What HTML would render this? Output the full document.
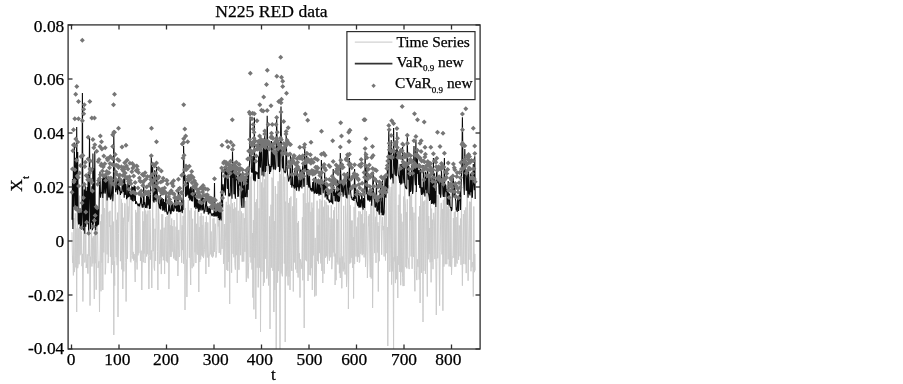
<!DOCTYPE html>
<html lang="en">
<head>
<meta charset="utf-8">
<title>N225 RED data</title>
<style>
html,body{margin:0;padding:0;background:#fff;}
body{width:903px;height:384px;overflow:hidden;font-family:"Liberation Serif",serif;}
svg{display:block;}
svg text{font-family:"Liberation Serif",serif;fill:#000;stroke:#000;stroke-width:0.25px;}
</style>
</head>
<body>
<svg width="903" height="384" viewBox="0 0 903 384">
<rect width="903" height="384" fill="#fff"/>
<defs><clipPath id="plot"><rect x="68" y="25" width="412" height="324"/></clipPath></defs>
<g clip-path="url(#plot)" fill="none" stroke-linejoin="miter" stroke-miterlimit="2">
<path d="M72.0,232.2 L72.5,262.9 L72.9,255.8 L73.4,275.4 L73.9,218.0 L74.3,272.1 L74.8,267.5 L75.3,213.3 L75.8,267.3 L76.2,228.5 L76.7,312.0 L77.2,210.6 L77.7,268.2 L78.2,264.4 L78.6,228.5 L79.1,264.2 L79.6,195.7 L80.0,255.3 L80.5,230.0 L81.0,254.2 L81.5,231.5 L82.0,266.2 L82.4,253.9 L82.9,301.5 L83.4,258.0 L83.8,218.1 L84.3,189.6 L84.8,262.5 L85.3,258.3 L85.8,233.4 L86.2,268.0 L86.7,263.7 L87.2,254.3 L87.7,273.4 L88.1,273.7 L88.6,232.5 L89.1,256.0 L89.5,221.2 L90.0,305.6 L90.5,256.6 L91.0,255.4 L91.5,224.0 L91.9,266.5 L92.4,237.8 L92.9,263.4 L93.3,236.1 L93.8,259.9 L94.3,299.0 L94.8,209.0 L95.2,263.3 L95.7,234.0 L96.2,289.7 L96.7,258.8 L97.2,217.4 L97.6,227.3 L98.1,267.9 L98.6,262.9 L99.0,261.3 L99.5,312.0 L100.0,255.8 L100.5,221.4 L101.0,291.3 L101.4,214.5 L101.9,262.8 L102.4,190.3 L102.8,290.0 L103.3,187.0 L103.8,252.4 L104.3,208.0 L104.8,210.5 L105.2,274.4 L105.7,267.2 L106.2,190.1 L106.7,223.4 L107.1,254.4 L107.6,193.6 L108.1,263.1 L108.5,257.6 L109.0,211.9 L109.5,226.9 L110.0,210.8 L110.4,256.8 L110.9,225.2 L111.4,273.2 L111.9,209.3 L112.3,190.9 L112.8,265.0 L113.3,221.6 L113.8,335.0 L114.2,261.3 L114.7,285.6 L115.2,193.9 L115.7,209.3 L116.2,257.1 L116.6,219.8 L117.1,265.2 L117.6,212.6 L118.0,317.0 L118.5,233.4 L119.0,196.9 L119.5,189.4 L119.9,188.8 L120.4,261.2 L120.9,253.4 L121.4,199.2 L121.8,269.4 L122.3,202.9 L122.8,289.0 L123.3,217.7 L123.8,271.4 L124.2,226.9 L124.7,203.2 L125.2,203.6 L125.7,262.3 L126.1,301.5 L126.6,256.9 L127.1,194.7 L127.5,258.7 L128.0,206.4 L128.5,221.5 L129.0,214.4 L129.4,195.6 L129.9,203.1 L130.4,261.5 L130.9,262.3 L131.3,255.5 L131.8,188.2 L132.3,224.3 L132.8,258.7 L133.2,251.9 L133.7,260.6 L134.2,254.0 L134.7,260.3 L135.2,282.0 L135.6,209.9 L136.1,262.4 L136.6,212.6 L137.1,269.5 L137.5,207.2 L138.0,255.4 L138.5,205.8 L138.9,253.2 L139.4,210.6 L139.9,203.6 L140.4,260.8 L140.8,256.4 L141.3,250.7 L141.8,290.0 L142.3,256.0 L142.8,211.4 L143.2,262.3 L143.7,221.3 L144.2,253.5 L144.6,202.0 L145.1,263.0 L145.6,210.5 L146.1,214.6 L146.6,256.5 L147.0,214.3 L147.5,254.2 L148.0,210.5 L148.4,256.3 L148.9,289.0 L149.4,255.3 L149.9,210.2 L150.3,222.2 L150.8,259.7 L151.3,250.4 L151.8,288.0 L152.2,252.3 L152.7,195.0 L153.2,251.2 L153.7,218.6 L154.1,267.3 L154.6,270.5 L155.1,228.8 L155.6,261.0 L156.1,212.5 L156.5,188.8 L157.0,218.4 L157.5,251.7 L157.9,290.0 L158.4,204.3 L158.9,214.9 L159.4,263.8 L159.8,263.9 L160.3,258.4 L160.8,229.7 L161.3,274.1 L161.8,214.1 L162.2,256.5 L162.7,214.4 L163.2,260.3 L163.6,258.6 L164.1,227.7 L164.6,274.0 L165.1,230.9 L165.6,217.0 L166.0,260.4 L166.5,261.3 L167.0,216.1 L167.4,262.5 L167.9,226.2 L168.4,211.7 L168.9,289.0 L169.3,255.8 L169.8,208.4 L170.3,256.9 L170.8,225.2 L171.2,256.9 L171.7,218.5 L172.2,251.7 L172.7,226.2 L173.1,250.9 L173.6,258.4 L174.1,220.0 L174.6,257.0 L175.1,259.9 L175.5,260.3 L176.0,226.6 L176.5,260.7 L176.9,213.0 L177.4,229.2 L177.9,276.0 L178.4,250.9 L178.8,229.9 L179.3,257.0 L179.8,255.6 L180.3,210.6 L180.8,212.4 L181.2,230.8 L181.7,262.8 L182.2,225.2 L182.6,250.1 L183.1,215.9 L183.6,263.8 L184.1,199.9 L184.6,202.2 L185.0,310.0 L185.5,208.0 L186.0,258.3 L186.4,259.2 L186.9,297.0 L187.4,259.1 L187.9,206.8 L188.3,199.8 L188.8,213.0 L189.3,257.7 L189.8,210.5 L190.2,261.3 L190.7,285.0 L191.2,208.0 L191.7,257.7 L192.1,268.2 L192.6,218.8 L193.1,262.2 L193.6,266.4 L194.1,262.4 L194.5,210.8 L195.0,252.2 L195.5,207.3 L195.9,263.0 L196.4,223.8 L196.9,253.6 L197.4,254.6 L197.8,207.7 L198.3,228.0 L198.8,292.0 L199.3,227.2 L199.8,262.0 L200.2,216.2 L200.7,259.5 L201.2,213.0 L201.7,255.5 L202.1,224.9 L202.6,256.5 L203.1,215.9 L203.5,258.1 L204.0,254.4 L204.5,249.7 L205.0,227.7 L205.4,222.0 L205.9,274.0 L206.4,216.4 L206.9,249.7 L207.3,257.5 L207.8,222.4 L208.3,250.0 L208.8,266.9 L209.2,255.0 L209.7,255.4 L210.2,210.4 L210.7,254.3 L211.2,231.5 L211.6,256.5 L212.1,250.7 L212.6,257.6 L213.0,218.6 L213.5,256.3 L214.0,218.1 L214.5,252.0 L214.9,228.4 L215.4,223.8 L215.9,257.6 L216.4,254.5 L216.8,250.4 L217.3,216.3 L217.8,217.8 L218.3,226.4 L218.8,221.2 L219.2,253.0 L219.7,217.4 L220.2,248.0 L220.7,254.7 L221.1,247.9 L221.6,216.4 L222.1,248.8 L222.5,212.8 L223.0,204.1 L223.5,263.8 L224.0,258.3 L224.4,224.1 L224.9,287.5 L225.4,241.5 L225.9,209.1 L226.3,201.8 L226.8,269.9 L227.3,205.1 L227.8,270.9 L228.2,179.7 L228.7,261.8 L229.2,204.5 L229.7,304.0 L230.2,206.6 L230.6,223.0 L231.1,198.5 L231.6,272.7 L232.0,222.9 L232.5,203.3 L233.0,253.8 L233.5,208.9 L233.9,257.3 L234.4,202.0 L234.9,263.7 L235.4,269.6 L235.8,207.5 L236.3,255.2 L236.8,197.9 L237.3,283.0 L237.8,229.4 L238.2,210.8 L238.7,269.7 L239.2,269.7 L239.7,214.2 L240.1,196.0 L240.6,255.2 L241.1,219.8 L241.5,211.5 L242.0,261.8 L242.5,261.4 L243.0,213.3 L243.4,261.2 L243.9,261.6 L244.4,218.2 L244.9,251.8 L245.3,200.9 L245.8,224.2 L246.3,282.0 L246.8,191.4 L247.2,202.2 L247.7,275.9 L248.2,278.4 L248.7,262.7 L249.2,168.2 L249.6,166.9 L250.1,257.2 L250.6,176.7 L251.0,262.6 L251.5,174.5 L252.0,269.5 L252.5,233.0 L252.9,297.6 L253.4,220.1 L253.9,309.4 L254.4,151.2 L254.8,257.6 L255.3,202.1 L255.8,319.0 L256.3,246.8 L256.8,199.3 L257.2,267.7 L257.7,179.6 L258.2,287.4 L258.6,269.1 L259.1,208.4 L259.6,267.7 L260.1,165.9 L260.5,332.0 L261.0,251.7 L261.5,182.5 L262.0,271.7 L262.4,210.4 L262.9,173.9 L263.4,285.9 L263.9,187.6 L264.4,282.5 L264.8,179.2 L265.3,258.8 L265.8,172.7 L266.2,178.8 L266.7,278.6 L267.2,273.6 L267.7,155.0 L268.1,264.1 L268.6,285.5 L269.1,267.8 L269.6,216.4 L270.0,329.0 L270.5,239.5 L271.0,204.7 L271.5,267.6 L271.9,177.6 L272.4,179.2 L272.9,270.8 L273.4,152.6 L273.9,312.0 L274.3,221.1 L274.8,290.0 L275.3,186.1 L275.8,260.5 L276.2,360.0 L276.7,246.1 L277.2,193.9 L277.6,282.6 L278.1,181.3 L278.6,271.1 L279.1,261.6 L279.5,160.0 L280.0,360.0 L280.5,174.3 L281.0,273.4 L281.4,159.4 L281.9,272.6 L282.4,276.3 L282.9,181.5 L283.4,168.1 L283.8,192.6 L284.3,263.6 L284.8,176.8 L285.2,342.0 L285.7,201.6 L286.2,276.3 L286.7,265.1 L287.1,174.0 L287.6,271.2 L288.1,285.4 L288.6,202.9 L289.0,276.7 L289.5,198.0 L290.0,290.0 L290.5,221.9 L290.9,196.5 L291.4,265.9 L291.9,271.0 L292.4,210.7 L292.9,206.2 L293.3,291.5 L293.8,189.2 L294.3,262.5 L294.8,177.3 L295.2,201.2 L295.7,269.4 L296.2,205.9 L296.6,198.3 L297.1,272.9 L297.6,222.9 L298.1,277.5 L298.5,221.0 L299.0,258.4 L299.5,253.4 L300.0,297.6 L300.4,259.3 L300.9,261.6 L301.4,264.3 L301.9,268.8 L302.4,217.3 L302.8,280.3 L303.3,193.4 L303.8,220.1 L304.2,328.0 L304.7,193.0 L305.2,177.9 L305.7,260.3 L306.1,203.1 L306.6,261.2 L307.1,202.4 L307.6,177.3 L308.0,281.0 L308.5,202.6 L309.0,274.8 L309.5,180.9 L309.9,189.7 L310.4,275.3 L310.9,211.9 L311.4,268.1 L311.9,202.5 L312.3,290.0 L312.8,207.8 L313.3,255.4 L313.8,192.0 L314.2,258.7 L314.7,296.5 L315.2,237.9 L315.6,272.9 L316.1,295.6 L316.6,261.2 L317.1,200.7 L317.5,261.2 L318.0,225.2 L318.5,263.8 L319.0,208.7 L319.4,253.1 L319.9,199.0 L320.4,256.1 L320.9,263.5 L321.4,200.7 L321.8,270.9 L322.3,187.5 L322.8,283.0 L323.2,221.3 L323.7,206.8 L324.2,273.7 L324.7,200.2 L325.1,255.6 L325.6,257.7 L326.1,201.7 L326.6,256.3 L327.0,204.8 L327.5,263.9 L328.0,221.2 L328.5,205.5 L328.9,254.2 L329.4,260.7 L329.9,217.7 L330.4,228.4 L330.8,257.3 L331.3,205.1 L331.8,269.2 L332.3,258.0 L332.8,218.7 L333.2,252.4 L333.7,210.3 L334.2,256.5 L334.6,207.2 L335.1,285.0 L335.6,253.7 L336.1,280.2 L336.6,190.7 L337.0,262.4 L337.5,219.4 L338.0,264.5 L338.4,213.7 L338.9,199.2 L339.4,273.2 L339.9,257.8 L340.3,278.0 L340.8,252.8 L341.3,174.9 L341.8,288.3 L342.2,256.4 L342.7,265.6 L343.2,271.4 L343.7,205.8 L344.1,269.3 L344.6,262.7 L345.1,274.5 L345.6,198.7 L346.1,218.1 L346.5,286.8 L347.0,274.9 L347.5,203.1 L347.9,191.7 L348.4,309.0 L348.9,254.2 L349.4,191.5 L349.8,263.7 L350.3,205.2 L350.8,262.6 L351.3,220.7 L351.8,257.9 L352.2,220.5 L352.7,267.9 L353.2,237.1 L353.6,298.5 L354.1,206.9 L354.6,264.1 L355.1,201.9 L355.6,199.4 L356.0,256.5 L356.5,226.7 L357.0,254.6 L357.4,262.0 L357.9,217.5 L358.4,257.1 L358.9,211.2 L359.3,262.6 L359.8,261.1 L360.3,211.6 L360.8,253.8 L361.2,249.7 L361.7,214.3 L362.2,255.2 L362.7,209.1 L363.1,253.9 L363.6,223.6 L364.1,257.4 L364.6,216.4 L365.1,199.5 L365.5,267.0 L366.0,251.9 L366.5,211.3 L366.9,234.4 L367.4,278.0 L367.9,258.9 L368.4,216.2 L368.8,226.2 L369.3,214.2 L369.8,257.0 L370.3,277.0 L370.8,203.6 L371.2,278.5 L371.7,192.7 L372.2,221.5 L372.6,308.0 L373.1,256.7 L373.6,200.1 L374.1,210.4 L374.6,253.1 L375.0,227.8 L375.5,216.8 L376.0,262.8 L376.4,202.9 L376.9,215.7 L377.4,252.5 L377.9,222.3 L378.3,291.5 L378.8,226.0 L379.3,261.2 L379.8,208.6 L380.2,206.8 L380.7,209.6 L381.2,224.5 L381.7,254.7 L382.1,231.8 L382.6,217.2 L383.1,230.1 L383.6,226.1 L384.1,256.5 L384.5,213.2 L385.0,210.2 L385.5,260.5 L385.9,222.9 L386.4,181.5 L386.9,253.2 L387.4,227.1 L387.8,346.0 L388.3,250.0 L388.8,185.3 L389.3,192.3 L389.8,271.8 L390.2,263.4 L390.7,195.2 L391.2,187.0 L391.6,284.6 L392.1,182.7 L392.6,271.3 L393.1,257.3 L393.6,360.0 L394.0,170.4 L394.5,259.9 L395.0,262.7 L395.4,283.1 L395.9,170.3 L396.4,279.3 L396.9,269.3 L397.3,256.1 L397.8,298.0 L398.3,205.0 L398.8,264.9 L399.2,194.6 L399.7,271.9 L400.2,181.4 L400.7,285.2 L401.1,213.7 L401.6,272.2 L402.1,221.8 L402.6,277.4 L403.1,286.1 L403.5,196.6 L404.0,286.0 L404.5,178.1 L404.9,197.3 L405.4,203.9 L405.9,267.1 L406.4,212.1 L406.8,268.4 L407.3,199.3 L407.8,258.3 L408.3,258.0 L408.8,267.2 L409.2,269.1 L409.7,191.0 L410.2,220.4 L410.6,195.7 L411.1,256.4 L411.6,193.7 L412.1,268.8 L412.6,207.0 L413.0,217.3 L413.5,256.8 L414.0,212.7 L414.4,270.6 L414.9,291.3 L415.4,197.3 L415.9,190.7 L416.3,270.8 L416.8,280.1 L417.3,259.3 L417.8,266.7 L418.2,267.0 L418.7,216.7 L419.2,279.5 L419.7,206.0 L420.1,303.0 L420.6,185.6 L421.1,206.3 L421.6,272.8 L422.1,201.0 L422.5,195.3 L423.0,322.0 L423.5,201.5 L423.9,270.9 L424.4,205.4 L424.9,200.4 L425.4,273.9 L425.8,263.7 L426.3,192.0 L426.8,240.4 L427.3,296.5 L427.8,173.5 L428.2,259.3 L428.7,216.1 L429.2,253.9 L429.6,228.0 L430.1,262.3 L430.6,200.4 L431.1,282.3 L431.6,208.6 L432.0,261.9 L432.5,219.7 L433.0,269.2 L433.4,213.6 L433.9,212.8 L434.4,222.0 L434.9,259.1 L435.3,206.8 L435.8,253.3 L436.3,315.0 L436.8,261.7 L437.2,195.0 L437.7,258.3 L438.2,209.4 L438.7,194.5 L439.1,251.4 L439.6,305.7 L440.1,252.4 L440.6,222.1 L441.0,203.4 L441.5,202.9 L442.0,254.4 L442.5,208.9 L442.9,310.7 L443.4,199.9 L443.9,266.6 L444.4,180.7 L444.8,222.3 L445.3,264.2 L445.8,200.5 L446.3,193.5 L446.8,264.2 L447.2,206.4 L447.7,218.9 L448.2,259.3 L448.6,203.6 L449.1,266.4 L449.6,260.7 L450.1,209.0 L450.5,266.6 L451.0,210.8 L451.5,275.0 L452.0,259.4 L452.4,256.5 L452.9,256.5 L453.4,218.0 L453.9,257.9 L454.3,212.2 L454.8,266.8 L455.3,211.1 L455.8,266.6 L456.2,217.1 L456.7,260.9 L457.2,263.5 L457.7,203.5 L458.1,225.8 L458.6,259.9 L459.1,225.4 L459.6,226.9 L460.0,256.3 L460.5,218.6 L461.0,264.8 L461.5,195.3 L461.9,247.4 L462.4,285.7 L462.9,249.9 L463.4,214.0 L463.8,263.9 L464.3,210.3 L464.8,214.4 L465.3,264.3 L465.8,207.4 L466.2,273.1 L466.7,216.9 L467.2,189.4 L467.6,207.9 L468.1,280.7 L468.6,252.1 L469.1,223.5 L469.5,201.7 L470.0,259.7 L470.5,201.9 L471.0,271.3 L471.4,187.2 L471.9,267.3 L472.4,263.8 L472.9,262.0 L473.3,296.5 L473.8,206.5 L474.3,272.2 L474.8,253.9 L475.2,270.5" stroke="#cbcbcb" stroke-width="1.0"/>
<path d="M72.0,219.7 L72.5,179.1 L72.9,228.9 L73.4,167.9 L73.9,208.1 L74.3,142.6 L74.8,179.8 L75.3,208.9 L75.8,157.8 L76.2,209.9 L76.7,127.0 L77.2,206.6 L77.7,152.0 L78.2,220.1 L78.6,224.5 L79.1,212.9 L79.6,224.3 L80.0,208.4 L80.5,228.4 L81.0,212.7 L81.5,229.7 L82.0,207.4 L82.4,93.0 L82.9,209.7 L83.4,230.6 L83.8,211.0 L84.3,189.4 L84.8,233.8 L85.3,186.3 L85.8,226.8 L86.2,190.7 L86.7,220.5 L87.2,186.9 L87.7,224.2 L88.1,174.1 L88.6,230.7 L89.1,189.0 L89.5,138.0 L90.0,191.9 L90.5,229.3 L91.0,191.2 L91.5,222.7 L91.9,186.2 L92.4,230.3 L92.9,153.4 L93.3,226.0 L93.8,168.4 L94.3,217.9 L94.8,151.5 L95.2,213.8 L95.7,230.6 L96.2,208.4 L96.7,226.6 L97.2,207.0 L97.6,225.6 L98.1,207.1 L98.6,224.8 L99.0,210.6 L99.5,182.8 L100.0,171.4 L100.5,197.7 L101.0,193.5 L101.4,192.8 L101.9,193.2 L102.4,178.4 L102.8,198.1 L103.3,174.4 L103.8,193.5 L104.3,181.1 L104.8,176.0 L105.2,193.6 L105.7,188.9 L106.2,176.9 L106.7,176.3 L107.1,200.5 L107.6,183.1 L108.1,178.6 L108.5,196.1 L109.0,197.7 L109.5,195.4 L110.0,179.1 L110.4,199.4 L110.9,199.0 L111.4,195.6 L111.9,186.2 L112.3,180.6 L112.8,201.2 L113.3,192.2 L113.8,134.0 L114.2,167.1 L114.7,166.7 L115.2,187.0 L115.7,192.3 L116.2,189.1 L116.6,189.2 L117.1,179.5 L117.6,194.5 L118.0,181.8 L118.5,189.7 L119.0,174.7 L119.5,191.2 L119.9,187.3 L120.4,194.9 L120.9,191.4 L121.4,192.5 L121.8,192.7 L122.3,180.2 L122.8,186.3 L123.3,192.0 L123.8,178.4 L124.2,197.8 L124.7,177.0 L125.2,194.9 L125.7,183.9 L126.1,186.1 L126.6,199.2 L127.1,196.7 L127.5,197.8 L128.0,179.0 L128.5,197.2 L129.0,194.4 L129.4,185.0 L129.9,196.7 L130.4,194.2 L130.9,199.2 L131.3,199.6 L131.8,186.2 L132.3,200.9 L132.8,187.1 L133.2,201.5 L133.7,190.7 L134.2,185.4 L134.7,201.0 L135.2,186.3 L135.6,204.1 L136.1,201.1 L136.6,202.6 L137.1,203.6 L137.5,204.0 L138.0,205.6 L138.5,205.1 L138.9,203.7 L139.4,206.4 L139.9,204.1 L140.4,203.1 L140.8,192.8 L141.3,196.5 L141.8,204.7 L142.3,207.6 L142.8,204.0 L143.2,207.6 L143.7,182.4 L144.2,204.6 L144.6,202.1 L145.1,206.3 L145.6,207.8 L146.1,206.4 L146.6,195.9 L147.0,208.3 L147.5,192.8 L148.0,205.4 L148.4,199.7 L148.9,193.3 L149.4,209.1 L149.9,199.2 L150.3,208.7 L150.8,180.5 L151.3,157.0 L151.8,181.9 L152.2,175.5 L152.7,166.7 L153.2,200.7 L153.7,201.5 L154.1,202.6 L154.6,170.2 L155.1,200.3 L155.6,187.5 L156.1,201.8 L156.5,167.0 L157.0,188.6 L157.5,196.5 L157.9,195.2 L158.4,203.2 L158.9,204.7 L159.4,208.0 L159.8,208.2 L160.3,195.1 L160.8,209.6 L161.3,197.7 L161.8,206.0 L162.2,197.9 L162.7,210.7 L163.2,207.8 L163.6,198.9 L164.1,210.5 L164.6,202.0 L165.1,212.1 L165.6,200.0 L166.0,193.8 L166.5,211.2 L167.0,212.8 L167.4,214.6 L167.9,212.7 L168.4,210.7 L168.9,201.8 L169.3,211.1 L169.8,205.4 L170.3,212.1 L170.8,214.2 L171.2,212.1 L171.7,201.3 L172.2,211.2 L172.7,202.9 L173.1,210.0 L173.6,211.1 L174.1,210.7 L174.6,199.7 L175.1,200.2 L175.5,208.5 L176.0,204.7 L176.5,210.7 L176.9,211.5 L177.4,199.8 L177.9,211.5 L178.4,186.9 L178.8,212.2 L179.3,204.4 L179.8,211.9 L180.3,210.2 L180.8,211.5 L181.2,209.2 L181.7,199.2 L182.2,213.1 L182.6,209.0 L183.1,209.2 L183.6,146.0 L184.1,173.7 L184.6,181.0 L185.0,174.4 L185.5,196.8 L186.0,196.1 L186.4,182.6 L186.9,195.8 L187.4,181.4 L187.9,194.8 L188.3,180.2 L188.8,198.2 L189.3,188.6 L189.8,200.5 L190.2,197.6 L190.7,186.7 L191.2,199.3 L191.7,201.1 L192.1,187.3 L192.6,201.5 L193.1,194.0 L193.6,189.5 L194.1,189.6 L194.5,207.4 L195.0,204.5 L195.5,193.2 L195.9,208.9 L196.4,205.1 L196.9,198.9 L197.4,208.4 L197.8,199.8 L198.3,207.7 L198.8,211.9 L199.3,201.9 L199.8,207.0 L200.2,210.4 L200.7,204.6 L201.2,195.8 L201.7,208.9 L202.1,210.5 L202.6,197.2 L203.1,209.8 L203.5,198.1 L204.0,213.6 L204.5,210.7 L205.0,211.0 L205.4,207.2 L205.9,201.9 L206.4,197.5 L206.9,211.9 L207.3,210.8 L207.8,206.2 L208.3,214.3 L208.8,213.8 L209.2,207.9 L209.7,213.3 L210.2,207.3 L210.7,212.8 L211.2,213.4 L211.6,214.7 L212.1,216.0 L212.6,214.7 L213.0,213.2 L213.5,214.4 L214.0,216.7 L214.5,183.0 L214.9,216.2 L215.4,207.3 L215.9,216.5 L216.4,215.6 L216.8,208.5 L217.3,216.3 L217.8,208.4 L218.3,218.0 L218.8,211.6 L219.2,220.1 L219.7,218.5 L220.2,208.2 L220.7,217.6 L221.1,220.4 L221.6,171.5 L222.1,198.7 L222.5,207.3 L223.0,184.2 L223.5,191.8 L224.0,192.4 L224.4,187.1 L224.9,167.9 L225.4,195.4 L225.9,167.9 L226.3,167.0 L226.8,172.1 L227.3,188.2 L227.8,188.7 L228.2,171.0 L228.7,196.3 L229.2,193.4 L229.7,196.2 L230.2,194.9 L230.6,164.3 L231.1,173.0 L231.6,192.1 L232.0,198.7 L232.5,151.5 L233.0,177.9 L233.5,169.0 L233.9,194.2 L234.4,168.7 L234.9,193.2 L235.4,198.8 L235.8,177.0 L236.3,165.4 L236.8,180.4 L237.3,178.4 L237.8,197.0 L238.2,184.2 L238.7,196.6 L239.2,167.4 L239.7,177.0 L240.1,185.6 L240.6,173.4 L241.1,197.2 L241.5,204.8 L242.0,207.9 L242.5,171.4 L243.0,198.2 L243.4,185.4 L243.9,207.8 L244.4,183.4 L244.9,196.8 L245.3,195.4 L245.8,197.0 L246.3,172.9 L246.8,187.5 L247.2,197.3 L247.7,175.9 L248.2,189.7 L248.7,172.8 L249.2,167.8 L249.6,162.3 L250.1,116.5 L250.6,153.3 L251.0,150.9 L251.5,172.5 L252.0,171.6 L252.5,172.4 L252.9,156.0 L253.4,178.6 L253.9,180.7 L254.4,117.5 L254.8,179.5 L255.3,181.3 L255.8,171.2 L256.3,174.3 L256.8,173.2 L257.2,172.3 L257.7,174.0 L258.2,179.0 L258.6,156.2 L259.1,179.0 L259.6,140.7 L260.1,160.5 L260.5,167.6 L261.0,142.7 L261.5,143.7 L262.0,175.5 L262.4,168.2 L262.9,171.4 L263.4,141.6 L263.9,176.6 L264.4,144.3 L264.8,135.7 L265.3,172.0 L265.8,170.4 L266.2,144.6 L266.7,165.9 L267.2,115.7 L267.7,147.2 L268.1,158.5 L268.6,165.8 L269.1,164.4 L269.6,173.9 L270.0,166.0 L270.5,172.0 L271.0,169.1 L271.5,141.0 L271.9,167.3 L272.4,163.5 L272.9,142.6 L273.4,169.4 L273.9,152.6 L274.3,151.5 L274.8,168.9 L275.3,169.3 L275.8,167.9 L276.2,144.2 L276.7,119.0 L277.2,148.2 L277.6,143.6 L278.1,166.2 L278.6,166.3 L279.1,145.1 L279.5,172.0 L280.0,169.6 L280.5,141.1 L281.0,106.5 L281.4,144.3 L281.9,153.3 L282.4,167.4 L282.9,168.3 L283.4,149.8 L283.8,169.0 L284.3,172.1 L284.8,171.3 L285.2,173.1 L285.7,171.2 L286.2,133.0 L286.7,158.0 L287.1,167.9 L287.6,174.6 L288.1,176.5 L288.6,181.5 L289.0,179.8 L289.5,178.4 L290.0,176.5 L290.5,155.3 L290.9,184.9 L291.4,182.7 L291.9,187.6 L292.4,165.0 L292.9,184.9 L293.3,185.2 L293.8,186.7 L294.3,188.7 L294.8,168.1 L295.2,187.8 L295.7,173.3 L296.2,188.7 L296.6,190.7 L297.1,166.3 L297.6,187.2 L298.1,179.4 L298.5,185.6 L299.0,191.3 L299.5,186.6 L300.0,169.2 L300.4,187.3 L300.9,169.4 L301.4,182.0 L301.9,188.4 L302.4,170.2 L302.8,165.2 L303.3,170.7 L303.8,186.7 L304.2,186.0 L304.7,148.0 L305.2,166.5 L305.7,168.2 L306.1,170.1 L306.6,155.7 L307.1,185.1 L307.6,173.7 L308.0,169.1 L308.5,185.2 L309.0,187.7 L309.5,176.1 L309.9,184.6 L310.4,188.3 L310.9,190.4 L311.4,188.2 L311.9,191.7 L312.3,187.9 L312.8,182.1 L313.3,191.5 L313.8,178.2 L314.2,193.4 L314.7,192.7 L315.2,193.2 L315.6,176.8 L316.1,190.3 L316.6,193.8 L317.1,192.0 L317.5,182.8 L318.0,193.7 L318.5,183.5 L319.0,195.8 L319.4,181.4 L319.9,194.3 L320.4,187.9 L320.9,195.0 L321.4,160.0 L321.8,179.5 L322.3,184.2 L322.8,186.1 L323.2,193.3 L323.7,182.3 L324.2,190.0 L324.7,172.5 L325.1,197.5 L325.6,185.3 L326.1,196.3 L326.6,186.3 L327.0,199.4 L327.5,187.7 L328.0,199.0 L328.5,200.6 L328.9,199.4 L329.4,202.7 L329.9,200.9 L330.4,201.0 L330.8,202.2 L331.3,189.9 L331.8,202.8 L332.3,201.0 L332.8,204.2 L333.2,169.0 L333.7,188.8 L334.2,196.0 L334.6,189.2 L335.1,201.3 L335.6,192.5 L336.1,201.4 L336.6,192.7 L337.0,179.5 L337.5,201.6 L338.0,180.5 L338.4,201.9 L338.9,183.5 L339.4,201.4 L339.9,193.8 L340.3,153.0 L340.8,176.9 L341.3,185.6 L341.8,192.1 L342.2,183.3 L342.7,191.1 L343.2,196.7 L343.7,187.8 L344.1,183.5 L344.6,182.7 L345.1,195.2 L345.6,182.7 L346.1,197.7 L346.5,196.2 L347.0,198.4 L347.5,171.9 L347.9,180.0 L348.4,187.9 L348.9,194.8 L349.4,158.0 L349.8,180.3 L350.3,188.4 L350.8,193.7 L351.3,197.5 L351.8,197.3 L352.2,199.5 L352.7,199.5 L353.2,200.1 L353.6,197.0 L354.1,201.0 L354.6,169.0 L355.1,199.1 L355.6,187.8 L356.0,191.1 L356.5,201.3 L357.0,202.9 L357.4,204.5 L357.9,206.2 L358.4,192.5 L358.9,207.7 L359.3,195.5 L359.8,207.4 L360.3,199.3 L360.8,207.5 L361.2,205.3 L361.7,193.9 L362.2,198.2 L362.7,207.6 L363.1,209.7 L363.6,198.1 L364.1,205.5 L364.6,208.0 L365.1,151.5 L365.5,176.2 L366.0,187.0 L366.5,194.1 L366.9,165.2 L367.4,197.9 L367.9,200.4 L368.4,192.8 L368.8,200.4 L369.3,189.3 L369.8,201.7 L370.3,193.9 L370.8,200.2 L371.2,192.1 L371.7,205.7 L372.2,191.7 L372.6,191.5 L373.1,171.5 L373.6,191.8 L374.1,199.6 L374.6,199.0 L375.0,206.8 L375.5,207.0 L376.0,203.9 L376.4,178.8 L376.9,210.5 L377.4,210.9 L377.9,208.3 L378.3,195.9 L378.8,211.2 L379.3,214.7 L379.8,195.0 L380.2,193.6 L380.7,186.6 L381.2,212.8 L381.7,201.4 L382.1,215.2 L382.6,179.8 L383.1,214.6 L383.6,214.8 L384.1,212.9 L384.5,202.0 L385.0,178.0 L385.5,194.6 L385.9,197.8 L386.4,178.2 L386.9,193.1 L387.4,168.2 L387.8,188.4 L388.3,162.4 L388.8,130.7 L389.3,159.7 L389.8,150.5 L390.2,176.9 L390.7,179.3 L391.2,139.9 L391.6,175.8 L392.1,177.9 L392.6,173.8 L393.1,183.4 L393.6,128.0 L394.0,157.4 L394.5,168.0 L395.0,174.8 L395.4,149.7 L395.9,175.5 L396.4,175.6 L396.9,132.0 L397.3,150.2 L397.8,168.0 L398.3,174.6 L398.8,176.3 L399.2,178.6 L399.7,183.0 L400.2,164.0 L400.7,184.4 L401.1,184.0 L401.6,164.0 L402.1,183.4 L402.6,147.0 L403.1,169.1 L403.5,177.6 L404.0,183.3 L404.5,162.0 L404.9,183.8 L405.4,186.8 L405.9,188.2 L406.4,188.6 L406.8,188.6 L407.3,136.5 L407.8,167.9 L408.3,179.7 L408.8,165.8 L409.2,196.3 L409.7,189.1 L410.2,175.7 L410.6,191.8 L411.1,190.1 L411.6,164.8 L412.1,174.4 L412.6,193.9 L413.0,190.8 L413.5,168.4 L414.0,146.0 L414.4,166.4 L414.9,179.1 L415.4,185.3 L415.9,139.6 L416.3,192.1 L416.8,165.5 L417.3,152.0 L417.8,174.1 L418.2,170.2 L418.7,184.9 L419.2,169.8 L419.7,187.4 L420.1,188.0 L420.6,169.1 L421.1,191.3 L421.6,194.9 L422.1,187.3 L422.5,192.6 L423.0,194.5 L423.5,165.2 L423.9,192.7 L424.4,189.7 L424.9,196.5 L425.4,171.8 L425.8,189.8 L426.3,178.3 L426.8,193.3 L427.3,171.7 L427.8,170.8 L428.2,192.8 L428.7,194.3 L429.2,197.2 L429.6,200.9 L430.1,176.2 L430.6,200.1 L431.1,180.6 L431.6,203.9 L432.0,176.5 L432.5,201.8 L433.0,203.7 L433.4,158.0 L433.9,204.5 L434.4,173.3 L434.9,203.3 L435.3,191.0 L435.8,206.9 L436.3,178.4 L436.8,165.7 L437.2,183.2 L437.7,179.4 L438.2,181.6 L438.7,184.1 L439.1,193.3 L439.6,194.2 L440.1,177.8 L440.6,197.7 L441.0,193.8 L441.5,169.0 L442.0,184.5 L442.5,180.6 L442.9,194.0 L443.4,197.0 L443.9,188.4 L444.4,157.9 L444.8,197.1 L445.3,184.3 L445.8,185.2 L446.3,192.3 L446.8,189.6 L447.2,204.0 L447.7,204.5 L448.2,180.9 L448.6,195.2 L449.1,205.4 L449.6,193.6 L450.1,206.3 L450.5,207.7 L451.0,207.6 L451.5,211.0 L452.0,208.9 L452.4,189.5 L452.9,178.4 L453.4,179.0 L453.9,197.5 L454.3,184.1 L454.8,185.8 L455.3,198.6 L455.8,200.9 L456.2,210.5 L456.7,207.5 L457.2,212.0 L457.7,197.5 L458.1,195.9 L458.6,211.1 L459.1,195.3 L459.6,201.0 L460.0,191.4 L460.5,209.9 L461.0,187.1 L461.5,174.7 L461.9,164.6 L462.4,117.3 L462.9,159.4 L463.4,175.1 L463.8,185.3 L464.3,194.9 L464.8,149.0 L465.3,174.5 L465.8,175.2 L466.2,190.1 L466.7,190.1 L467.2,170.4 L467.6,190.5 L468.1,197.7 L468.6,170.0 L469.1,194.0 L469.5,192.7 L470.0,195.5 L470.5,173.7 L471.0,192.2 L471.4,174.7 L471.9,197.3 L472.4,197.3 L472.9,180.7 L473.3,164.0 L473.8,183.1 L474.3,190.1 L474.8,156.3 L475.2,198.9" stroke="#0a0a0a" stroke-width="1.1"/>
<path d="M72.0,189.8l2.5,2.5l-2.5,2.5l-2.5,-2.5zM72.5,166.4l2.5,2.5l-2.5,2.5l-2.5,-2.5zM72.9,148.2l2.5,2.5l-2.5,2.5l-2.5,-2.5zM73.4,142.4l2.5,2.5l-2.5,2.5l-2.5,-2.5zM73.9,179.4l2.5,2.5l-2.5,2.5l-2.5,-2.5zM74.3,177.9l2.5,2.5l-2.5,2.5l-2.5,-2.5zM74.8,167.3l2.5,2.5l-2.5,2.5l-2.5,-2.5zM75.3,204.9l2.5,2.5l-2.5,2.5l-2.5,-2.5zM75.8,136.5l2.5,2.5l-2.5,2.5l-2.5,-2.5zM76.2,206.7l2.5,2.5l-2.5,2.5l-2.5,-2.5zM76.7,157.7l2.5,2.5l-2.5,2.5l-2.5,-2.5zM77.2,173.6l2.5,2.5l-2.5,2.5l-2.5,-2.5zM77.7,139.6l2.5,2.5l-2.5,2.5l-2.5,-2.5zM78.2,174.9l2.5,2.5l-2.5,2.5l-2.5,-2.5zM78.6,183.6l2.5,2.5l-2.5,2.5l-2.5,-2.5zM79.1,208.5l2.5,2.5l-2.5,2.5l-2.5,-2.5zM79.6,170.4l2.5,2.5l-2.5,2.5l-2.5,-2.5zM80.0,207.8l2.5,2.5l-2.5,2.5l-2.5,-2.5zM80.5,163.1l2.5,2.5l-2.5,2.5l-2.5,-2.5zM81.0,153.9l2.5,2.5l-2.5,2.5l-2.5,-2.5zM81.5,225.3l2.5,2.5l-2.5,2.5l-2.5,-2.5zM82.0,200.6l2.5,2.5l-2.5,2.5l-2.5,-2.5zM82.4,118.2l2.5,2.5l-2.5,2.5l-2.5,-2.5zM82.9,152.9l2.5,2.5l-2.5,2.5l-2.5,-2.5zM83.4,195.3l2.5,2.5l-2.5,2.5l-2.5,-2.5zM83.8,182.4l2.5,2.5l-2.5,2.5l-2.5,-2.5zM84.3,181.7l2.5,2.5l-2.5,2.5l-2.5,-2.5zM84.8,164.0l2.5,2.5l-2.5,2.5l-2.5,-2.5zM85.3,159.7l2.5,2.5l-2.5,2.5l-2.5,-2.5zM85.8,209.6l2.5,2.5l-2.5,2.5l-2.5,-2.5zM86.2,172.9l2.5,2.5l-2.5,2.5l-2.5,-2.5zM86.7,219.7l2.5,2.5l-2.5,2.5l-2.5,-2.5zM87.2,174.1l2.5,2.5l-2.5,2.5l-2.5,-2.5zM87.7,177.3l2.5,2.5l-2.5,2.5l-2.5,-2.5zM88.1,156.5l2.5,2.5l-2.5,2.5l-2.5,-2.5zM88.6,230.7l2.5,2.5l-2.5,2.5l-2.5,-2.5zM89.1,177.2l2.5,2.5l-2.5,2.5l-2.5,-2.5zM89.5,170.6l2.5,2.5l-2.5,2.5l-2.5,-2.5zM90.0,166.5l2.5,2.5l-2.5,2.5l-2.5,-2.5zM90.5,158.5l2.5,2.5l-2.5,2.5l-2.5,-2.5zM91.0,177.4l2.5,2.5l-2.5,2.5l-2.5,-2.5zM91.5,167.3l2.5,2.5l-2.5,2.5l-2.5,-2.5zM91.9,180.0l2.5,2.5l-2.5,2.5l-2.5,-2.5zM92.4,188.6l2.5,2.5l-2.5,2.5l-2.5,-2.5zM92.9,137.1l2.5,2.5l-2.5,2.5l-2.5,-2.5zM93.3,224.1l2.5,2.5l-2.5,2.5l-2.5,-2.5zM93.8,145.3l2.5,2.5l-2.5,2.5l-2.5,-2.5zM94.3,217.9l2.5,2.5l-2.5,2.5l-2.5,-2.5zM94.8,142.3l2.5,2.5l-2.5,2.5l-2.5,-2.5zM95.2,213.1l2.5,2.5l-2.5,2.5l-2.5,-2.5zM95.7,230.5l2.5,2.5l-2.5,2.5l-2.5,-2.5zM96.2,204.3l2.5,2.5l-2.5,2.5l-2.5,-2.5zM96.7,148.8l2.5,2.5l-2.5,2.5l-2.5,-2.5zM97.2,205.5l2.5,2.5l-2.5,2.5l-2.5,-2.5zM97.6,181.8l2.5,2.5l-2.5,2.5l-2.5,-2.5zM98.1,159.0l2.5,2.5l-2.5,2.5l-2.5,-2.5zM98.6,178.1l2.5,2.5l-2.5,2.5l-2.5,-2.5zM99.0,156.9l2.5,2.5l-2.5,2.5l-2.5,-2.5zM99.5,176.1l2.5,2.5l-2.5,2.5l-2.5,-2.5zM100.0,143.9l2.5,2.5l-2.5,2.5l-2.5,-2.5zM100.5,172.2l2.5,2.5l-2.5,2.5l-2.5,-2.5zM101.0,163.0l2.5,2.5l-2.5,2.5l-2.5,-2.5zM101.4,161.4l2.5,2.5l-2.5,2.5l-2.5,-2.5zM101.9,146.6l2.5,2.5l-2.5,2.5l-2.5,-2.5zM102.4,168.5l2.5,2.5l-2.5,2.5l-2.5,-2.5zM102.8,172.7l2.5,2.5l-2.5,2.5l-2.5,-2.5zM103.3,164.2l2.5,2.5l-2.5,2.5l-2.5,-2.5zM103.8,153.4l2.5,2.5l-2.5,2.5l-2.5,-2.5zM104.3,173.3l2.5,2.5l-2.5,2.5l-2.5,-2.5zM104.8,161.3l2.5,2.5l-2.5,2.5l-2.5,-2.5zM105.2,145.3l2.5,2.5l-2.5,2.5l-2.5,-2.5zM105.7,178.1l2.5,2.5l-2.5,2.5l-2.5,-2.5zM106.2,172.1l2.5,2.5l-2.5,2.5l-2.5,-2.5zM106.7,169.1l2.5,2.5l-2.5,2.5l-2.5,-2.5zM107.1,156.1l2.5,2.5l-2.5,2.5l-2.5,-2.5zM107.6,157.6l2.5,2.5l-2.5,2.5l-2.5,-2.5zM108.1,156.6l2.5,2.5l-2.5,2.5l-2.5,-2.5zM108.5,175.3l2.5,2.5l-2.5,2.5l-2.5,-2.5zM109.0,170.3l2.5,2.5l-2.5,2.5l-2.5,-2.5zM109.5,165.2l2.5,2.5l-2.5,2.5l-2.5,-2.5zM110.0,161.0l2.5,2.5l-2.5,2.5l-2.5,-2.5zM110.4,154.1l2.5,2.5l-2.5,2.5l-2.5,-2.5zM110.9,175.5l2.5,2.5l-2.5,2.5l-2.5,-2.5zM111.4,176.9l2.5,2.5l-2.5,2.5l-2.5,-2.5zM111.9,180.4l2.5,2.5l-2.5,2.5l-2.5,-2.5zM112.3,161.9l2.5,2.5l-2.5,2.5l-2.5,-2.5zM112.8,156.3l2.5,2.5l-2.5,2.5l-2.5,-2.5zM113.3,181.8l2.5,2.5l-2.5,2.5l-2.5,-2.5zM113.8,129.7l2.5,2.5l-2.5,2.5l-2.5,-2.5zM114.2,162.7l2.5,2.5l-2.5,2.5l-2.5,-2.5zM114.7,162.6l2.5,2.5l-2.5,2.5l-2.5,-2.5zM115.2,151.9l2.5,2.5l-2.5,2.5l-2.5,-2.5zM115.7,169.2l2.5,2.5l-2.5,2.5l-2.5,-2.5zM116.2,176.9l2.5,2.5l-2.5,2.5l-2.5,-2.5zM116.6,162.7l2.5,2.5l-2.5,2.5l-2.5,-2.5zM117.1,172.0l2.5,2.5l-2.5,2.5l-2.5,-2.5zM117.6,157.0l2.5,2.5l-2.5,2.5l-2.5,-2.5zM118.0,163.3l2.5,2.5l-2.5,2.5l-2.5,-2.5zM118.5,165.1l2.5,2.5l-2.5,2.5l-2.5,-2.5zM119.0,157.9l2.5,2.5l-2.5,2.5l-2.5,-2.5zM119.5,181.7l2.5,2.5l-2.5,2.5l-2.5,-2.5zM119.9,172.6l2.5,2.5l-2.5,2.5l-2.5,-2.5zM120.4,177.1l2.5,2.5l-2.5,2.5l-2.5,-2.5zM120.9,178.4l2.5,2.5l-2.5,2.5l-2.5,-2.5zM121.4,164.3l2.5,2.5l-2.5,2.5l-2.5,-2.5zM121.8,181.2l2.5,2.5l-2.5,2.5l-2.5,-2.5zM122.3,166.9l2.5,2.5l-2.5,2.5l-2.5,-2.5zM122.8,172.9l2.5,2.5l-2.5,2.5l-2.5,-2.5zM123.3,168.6l2.5,2.5l-2.5,2.5l-2.5,-2.5zM123.8,165.1l2.5,2.5l-2.5,2.5l-2.5,-2.5zM124.2,166.7l2.5,2.5l-2.5,2.5l-2.5,-2.5zM124.7,160.2l2.5,2.5l-2.5,2.5l-2.5,-2.5zM125.2,170.4l2.5,2.5l-2.5,2.5l-2.5,-2.5zM125.7,174.4l2.5,2.5l-2.5,2.5l-2.5,-2.5zM126.1,175.7l2.5,2.5l-2.5,2.5l-2.5,-2.5zM126.6,163.5l2.5,2.5l-2.5,2.5l-2.5,-2.5zM127.1,157.8l2.5,2.5l-2.5,2.5l-2.5,-2.5zM127.5,174.9l2.5,2.5l-2.5,2.5l-2.5,-2.5zM128.0,166.6l2.5,2.5l-2.5,2.5l-2.5,-2.5zM128.5,179.3l2.5,2.5l-2.5,2.5l-2.5,-2.5zM129.0,186.7l2.5,2.5l-2.5,2.5l-2.5,-2.5zM129.4,174.3l2.5,2.5l-2.5,2.5l-2.5,-2.5zM129.9,160.8l2.5,2.5l-2.5,2.5l-2.5,-2.5zM130.4,177.9l2.5,2.5l-2.5,2.5l-2.5,-2.5zM130.9,181.2l2.5,2.5l-2.5,2.5l-2.5,-2.5zM131.3,190.2l2.5,2.5l-2.5,2.5l-2.5,-2.5zM131.8,169.3l2.5,2.5l-2.5,2.5l-2.5,-2.5zM132.3,161.0l2.5,2.5l-2.5,2.5l-2.5,-2.5zM132.8,165.6l2.5,2.5l-2.5,2.5l-2.5,-2.5zM133.2,189.6l2.5,2.5l-2.5,2.5l-2.5,-2.5zM133.7,173.5l2.5,2.5l-2.5,2.5l-2.5,-2.5zM134.2,163.3l2.5,2.5l-2.5,2.5l-2.5,-2.5zM134.7,190.6l2.5,2.5l-2.5,2.5l-2.5,-2.5zM135.2,180.0l2.5,2.5l-2.5,2.5l-2.5,-2.5zM135.6,191.1l2.5,2.5l-2.5,2.5l-2.5,-2.5zM136.1,168.0l2.5,2.5l-2.5,2.5l-2.5,-2.5zM136.6,163.6l2.5,2.5l-2.5,2.5l-2.5,-2.5zM137.1,163.8l2.5,2.5l-2.5,2.5l-2.5,-2.5zM137.5,167.3l2.5,2.5l-2.5,2.5l-2.5,-2.5zM138.0,185.5l2.5,2.5l-2.5,2.5l-2.5,-2.5zM138.5,169.9l2.5,2.5l-2.5,2.5l-2.5,-2.5zM138.9,190.9l2.5,2.5l-2.5,2.5l-2.5,-2.5zM139.4,175.4l2.5,2.5l-2.5,2.5l-2.5,-2.5zM139.9,178.5l2.5,2.5l-2.5,2.5l-2.5,-2.5zM140.4,190.9l2.5,2.5l-2.5,2.5l-2.5,-2.5zM140.8,178.9l2.5,2.5l-2.5,2.5l-2.5,-2.5zM141.3,188.5l2.5,2.5l-2.5,2.5l-2.5,-2.5zM141.8,193.3l2.5,2.5l-2.5,2.5l-2.5,-2.5zM142.3,171.9l2.5,2.5l-2.5,2.5l-2.5,-2.5zM142.8,182.9l2.5,2.5l-2.5,2.5l-2.5,-2.5zM143.2,179.5l2.5,2.5l-2.5,2.5l-2.5,-2.5zM143.7,173.1l2.5,2.5l-2.5,2.5l-2.5,-2.5zM144.2,178.3l2.5,2.5l-2.5,2.5l-2.5,-2.5zM144.6,191.7l2.5,2.5l-2.5,2.5l-2.5,-2.5zM145.1,170.3l2.5,2.5l-2.5,2.5l-2.5,-2.5zM145.6,189.6l2.5,2.5l-2.5,2.5l-2.5,-2.5zM146.1,176.5l2.5,2.5l-2.5,2.5l-2.5,-2.5zM146.6,184.4l2.5,2.5l-2.5,2.5l-2.5,-2.5zM147.0,190.2l2.5,2.5l-2.5,2.5l-2.5,-2.5zM147.5,174.1l2.5,2.5l-2.5,2.5l-2.5,-2.5zM148.0,189.8l2.5,2.5l-2.5,2.5l-2.5,-2.5zM148.4,192.0l2.5,2.5l-2.5,2.5l-2.5,-2.5zM148.9,189.4l2.5,2.5l-2.5,2.5l-2.5,-2.5zM149.4,182.7l2.5,2.5l-2.5,2.5l-2.5,-2.5zM149.9,181.5l2.5,2.5l-2.5,2.5l-2.5,-2.5zM150.3,174.0l2.5,2.5l-2.5,2.5l-2.5,-2.5zM150.8,176.9l2.5,2.5l-2.5,2.5l-2.5,-2.5zM151.3,153.3l2.5,2.5l-2.5,2.5l-2.5,-2.5zM151.8,178.2l2.5,2.5l-2.5,2.5l-2.5,-2.5zM152.2,171.9l2.5,2.5l-2.5,2.5l-2.5,-2.5zM152.7,161.6l2.5,2.5l-2.5,2.5l-2.5,-2.5zM153.2,187.7l2.5,2.5l-2.5,2.5l-2.5,-2.5zM153.7,178.0l2.5,2.5l-2.5,2.5l-2.5,-2.5zM154.1,183.6l2.5,2.5l-2.5,2.5l-2.5,-2.5zM154.6,163.5l2.5,2.5l-2.5,2.5l-2.5,-2.5zM155.1,176.1l2.5,2.5l-2.5,2.5l-2.5,-2.5zM155.6,170.6l2.5,2.5l-2.5,2.5l-2.5,-2.5zM156.1,193.8l2.5,2.5l-2.5,2.5l-2.5,-2.5zM156.5,160.4l2.5,2.5l-2.5,2.5l-2.5,-2.5zM157.0,184.3l2.5,2.5l-2.5,2.5l-2.5,-2.5zM157.5,180.4l2.5,2.5l-2.5,2.5l-2.5,-2.5zM157.9,175.9l2.5,2.5l-2.5,2.5l-2.5,-2.5zM158.4,166.1l2.5,2.5l-2.5,2.5l-2.5,-2.5zM158.9,174.2l2.5,2.5l-2.5,2.5l-2.5,-2.5zM159.4,186.4l2.5,2.5l-2.5,2.5l-2.5,-2.5zM159.8,195.4l2.5,2.5l-2.5,2.5l-2.5,-2.5zM160.3,188.6l2.5,2.5l-2.5,2.5l-2.5,-2.5zM160.8,179.4l2.5,2.5l-2.5,2.5l-2.5,-2.5zM161.3,168.4l2.5,2.5l-2.5,2.5l-2.5,-2.5zM161.8,191.1l2.5,2.5l-2.5,2.5l-2.5,-2.5zM162.2,186.6l2.5,2.5l-2.5,2.5l-2.5,-2.5zM162.7,178.4l2.5,2.5l-2.5,2.5l-2.5,-2.5zM163.2,175.7l2.5,2.5l-2.5,2.5l-2.5,-2.5zM163.6,190.4l2.5,2.5l-2.5,2.5l-2.5,-2.5zM164.1,189.5l2.5,2.5l-2.5,2.5l-2.5,-2.5zM164.6,185.5l2.5,2.5l-2.5,2.5l-2.5,-2.5zM165.1,189.6l2.5,2.5l-2.5,2.5l-2.5,-2.5zM165.6,190.4l2.5,2.5l-2.5,2.5l-2.5,-2.5zM166.0,190.2l2.5,2.5l-2.5,2.5l-2.5,-2.5zM166.5,178.0l2.5,2.5l-2.5,2.5l-2.5,-2.5zM167.0,178.1l2.5,2.5l-2.5,2.5l-2.5,-2.5zM167.4,181.6l2.5,2.5l-2.5,2.5l-2.5,-2.5zM167.9,199.8l2.5,2.5l-2.5,2.5l-2.5,-2.5zM168.4,194.3l2.5,2.5l-2.5,2.5l-2.5,-2.5zM168.9,191.0l2.5,2.5l-2.5,2.5l-2.5,-2.5zM169.3,197.5l2.5,2.5l-2.5,2.5l-2.5,-2.5zM169.8,197.1l2.5,2.5l-2.5,2.5l-2.5,-2.5zM170.3,190.7l2.5,2.5l-2.5,2.5l-2.5,-2.5zM170.8,201.1l2.5,2.5l-2.5,2.5l-2.5,-2.5zM171.2,188.3l2.5,2.5l-2.5,2.5l-2.5,-2.5zM171.7,180.4l2.5,2.5l-2.5,2.5l-2.5,-2.5zM172.2,181.2l2.5,2.5l-2.5,2.5l-2.5,-2.5zM172.7,190.8l2.5,2.5l-2.5,2.5l-2.5,-2.5zM173.1,183.6l2.5,2.5l-2.5,2.5l-2.5,-2.5zM173.6,178.3l2.5,2.5l-2.5,2.5l-2.5,-2.5zM174.1,191.6l2.5,2.5l-2.5,2.5l-2.5,-2.5zM174.6,195.2l2.5,2.5l-2.5,2.5l-2.5,-2.5zM175.1,194.6l2.5,2.5l-2.5,2.5l-2.5,-2.5zM175.5,201.3l2.5,2.5l-2.5,2.5l-2.5,-2.5zM176.0,195.9l2.5,2.5l-2.5,2.5l-2.5,-2.5zM176.5,196.0l2.5,2.5l-2.5,2.5l-2.5,-2.5zM176.9,200.8l2.5,2.5l-2.5,2.5l-2.5,-2.5zM177.4,188.2l2.5,2.5l-2.5,2.5l-2.5,-2.5zM177.9,200.3l2.5,2.5l-2.5,2.5l-2.5,-2.5zM178.4,176.7l2.5,2.5l-2.5,2.5l-2.5,-2.5zM178.8,195.7l2.5,2.5l-2.5,2.5l-2.5,-2.5zM179.3,193.4l2.5,2.5l-2.5,2.5l-2.5,-2.5zM179.8,185.7l2.5,2.5l-2.5,2.5l-2.5,-2.5zM180.3,196.0l2.5,2.5l-2.5,2.5l-2.5,-2.5zM180.8,201.6l2.5,2.5l-2.5,2.5l-2.5,-2.5zM181.2,189.9l2.5,2.5l-2.5,2.5l-2.5,-2.5zM181.7,172.8l2.5,2.5l-2.5,2.5l-2.5,-2.5zM182.2,190.5l2.5,2.5l-2.5,2.5l-2.5,-2.5zM182.6,172.0l2.5,2.5l-2.5,2.5l-2.5,-2.5zM183.1,155.6l2.5,2.5l-2.5,2.5l-2.5,-2.5zM183.6,140.1l2.5,2.5l-2.5,2.5l-2.5,-2.5zM184.1,152.7l2.5,2.5l-2.5,2.5l-2.5,-2.5zM184.6,167.4l2.5,2.5l-2.5,2.5l-2.5,-2.5zM185.0,166.5l2.5,2.5l-2.5,2.5l-2.5,-2.5zM185.5,182.3l2.5,2.5l-2.5,2.5l-2.5,-2.5zM186.0,163.5l2.5,2.5l-2.5,2.5l-2.5,-2.5zM186.4,167.1l2.5,2.5l-2.5,2.5l-2.5,-2.5zM186.9,166.4l2.5,2.5l-2.5,2.5l-2.5,-2.5zM187.4,177.2l2.5,2.5l-2.5,2.5l-2.5,-2.5zM187.9,176.2l2.5,2.5l-2.5,2.5l-2.5,-2.5zM188.3,174.1l2.5,2.5l-2.5,2.5l-2.5,-2.5zM188.8,177.9l2.5,2.5l-2.5,2.5l-2.5,-2.5zM189.3,163.8l2.5,2.5l-2.5,2.5l-2.5,-2.5zM189.8,175.6l2.5,2.5l-2.5,2.5l-2.5,-2.5zM190.2,173.4l2.5,2.5l-2.5,2.5l-2.5,-2.5zM190.7,176.5l2.5,2.5l-2.5,2.5l-2.5,-2.5zM191.2,172.9l2.5,2.5l-2.5,2.5l-2.5,-2.5zM191.7,168.9l2.5,2.5l-2.5,2.5l-2.5,-2.5zM192.1,180.2l2.5,2.5l-2.5,2.5l-2.5,-2.5zM192.6,191.4l2.5,2.5l-2.5,2.5l-2.5,-2.5zM193.1,174.7l2.5,2.5l-2.5,2.5l-2.5,-2.5zM193.6,184.1l2.5,2.5l-2.5,2.5l-2.5,-2.5zM194.1,184.6l2.5,2.5l-2.5,2.5l-2.5,-2.5zM194.5,178.2l2.5,2.5l-2.5,2.5l-2.5,-2.5zM195.0,180.1l2.5,2.5l-2.5,2.5l-2.5,-2.5zM195.5,185.4l2.5,2.5l-2.5,2.5l-2.5,-2.5zM195.9,183.2l2.5,2.5l-2.5,2.5l-2.5,-2.5zM196.4,181.7l2.5,2.5l-2.5,2.5l-2.5,-2.5zM196.9,194.1l2.5,2.5l-2.5,2.5l-2.5,-2.5zM197.4,190.0l2.5,2.5l-2.5,2.5l-2.5,-2.5zM197.8,187.5l2.5,2.5l-2.5,2.5l-2.5,-2.5zM198.3,194.1l2.5,2.5l-2.5,2.5l-2.5,-2.5zM198.8,189.7l2.5,2.5l-2.5,2.5l-2.5,-2.5zM199.3,191.9l2.5,2.5l-2.5,2.5l-2.5,-2.5zM199.8,199.5l2.5,2.5l-2.5,2.5l-2.5,-2.5zM200.2,194.5l2.5,2.5l-2.5,2.5l-2.5,-2.5zM200.7,185.4l2.5,2.5l-2.5,2.5l-2.5,-2.5zM201.2,185.6l2.5,2.5l-2.5,2.5l-2.5,-2.5zM201.7,200.6l2.5,2.5l-2.5,2.5l-2.5,-2.5zM202.1,185.8l2.5,2.5l-2.5,2.5l-2.5,-2.5zM202.6,189.5l2.5,2.5l-2.5,2.5l-2.5,-2.5zM203.1,183.1l2.5,2.5l-2.5,2.5l-2.5,-2.5zM203.5,193.0l2.5,2.5l-2.5,2.5l-2.5,-2.5zM204.0,185.9l2.5,2.5l-2.5,2.5l-2.5,-2.5zM204.5,197.8l2.5,2.5l-2.5,2.5l-2.5,-2.5zM205.0,192.7l2.5,2.5l-2.5,2.5l-2.5,-2.5zM205.4,186.3l2.5,2.5l-2.5,2.5l-2.5,-2.5zM205.9,196.8l2.5,2.5l-2.5,2.5l-2.5,-2.5zM206.4,192.9l2.5,2.5l-2.5,2.5l-2.5,-2.5zM206.9,192.9l2.5,2.5l-2.5,2.5l-2.5,-2.5zM207.3,192.2l2.5,2.5l-2.5,2.5l-2.5,-2.5zM207.8,186.9l2.5,2.5l-2.5,2.5l-2.5,-2.5zM208.3,195.4l2.5,2.5l-2.5,2.5l-2.5,-2.5zM208.8,198.2l2.5,2.5l-2.5,2.5l-2.5,-2.5zM209.2,195.3l2.5,2.5l-2.5,2.5l-2.5,-2.5zM209.7,198.9l2.5,2.5l-2.5,2.5l-2.5,-2.5zM210.2,195.5l2.5,2.5l-2.5,2.5l-2.5,-2.5zM210.7,199.6l2.5,2.5l-2.5,2.5l-2.5,-2.5zM211.2,204.2l2.5,2.5l-2.5,2.5l-2.5,-2.5zM211.6,196.1l2.5,2.5l-2.5,2.5l-2.5,-2.5zM212.1,205.4l2.5,2.5l-2.5,2.5l-2.5,-2.5zM212.6,201.8l2.5,2.5l-2.5,2.5l-2.5,-2.5zM213.0,199.1l2.5,2.5l-2.5,2.5l-2.5,-2.5zM213.5,202.2l2.5,2.5l-2.5,2.5l-2.5,-2.5zM214.0,196.6l2.5,2.5l-2.5,2.5l-2.5,-2.5zM214.5,176.3l2.5,2.5l-2.5,2.5l-2.5,-2.5zM214.9,202.4l2.5,2.5l-2.5,2.5l-2.5,-2.5zM215.4,197.8l2.5,2.5l-2.5,2.5l-2.5,-2.5zM215.9,207.5l2.5,2.5l-2.5,2.5l-2.5,-2.5zM216.4,205.0l2.5,2.5l-2.5,2.5l-2.5,-2.5zM216.8,203.4l2.5,2.5l-2.5,2.5l-2.5,-2.5zM217.3,203.6l2.5,2.5l-2.5,2.5l-2.5,-2.5zM217.8,202.3l2.5,2.5l-2.5,2.5l-2.5,-2.5zM218.3,205.4l2.5,2.5l-2.5,2.5l-2.5,-2.5zM218.8,204.2l2.5,2.5l-2.5,2.5l-2.5,-2.5zM219.2,207.3l2.5,2.5l-2.5,2.5l-2.5,-2.5zM219.7,207.6l2.5,2.5l-2.5,2.5l-2.5,-2.5zM220.2,201.3l2.5,2.5l-2.5,2.5l-2.5,-2.5zM220.7,205.1l2.5,2.5l-2.5,2.5l-2.5,-2.5zM221.1,208.1l2.5,2.5l-2.5,2.5l-2.5,-2.5zM221.6,165.5l2.5,2.5l-2.5,2.5l-2.5,-2.5zM222.1,189.7l2.5,2.5l-2.5,2.5l-2.5,-2.5zM222.5,195.6l2.5,2.5l-2.5,2.5l-2.5,-2.5zM223.0,168.6l2.5,2.5l-2.5,2.5l-2.5,-2.5zM223.5,160.5l2.5,2.5l-2.5,2.5l-2.5,-2.5zM224.0,159.4l2.5,2.5l-2.5,2.5l-2.5,-2.5zM224.4,173.5l2.5,2.5l-2.5,2.5l-2.5,-2.5zM224.9,159.6l2.5,2.5l-2.5,2.5l-2.5,-2.5zM225.4,164.7l2.5,2.5l-2.5,2.5l-2.5,-2.5zM225.9,160.2l2.5,2.5l-2.5,2.5l-2.5,-2.5zM226.3,160.0l2.5,2.5l-2.5,2.5l-2.5,-2.5zM226.8,161.7l2.5,2.5l-2.5,2.5l-2.5,-2.5zM227.3,168.0l2.5,2.5l-2.5,2.5l-2.5,-2.5zM227.8,174.2l2.5,2.5l-2.5,2.5l-2.5,-2.5zM228.2,161.6l2.5,2.5l-2.5,2.5l-2.5,-2.5zM228.7,167.9l2.5,2.5l-2.5,2.5l-2.5,-2.5zM229.2,165.1l2.5,2.5l-2.5,2.5l-2.5,-2.5zM229.7,162.8l2.5,2.5l-2.5,2.5l-2.5,-2.5zM230.2,170.9l2.5,2.5l-2.5,2.5l-2.5,-2.5zM230.6,158.8l2.5,2.5l-2.5,2.5l-2.5,-2.5zM231.1,166.1l2.5,2.5l-2.5,2.5l-2.5,-2.5zM231.6,166.2l2.5,2.5l-2.5,2.5l-2.5,-2.5zM232.0,165.9l2.5,2.5l-2.5,2.5l-2.5,-2.5zM232.5,146.9l2.5,2.5l-2.5,2.5l-2.5,-2.5zM233.0,165.0l2.5,2.5l-2.5,2.5l-2.5,-2.5zM233.5,161.7l2.5,2.5l-2.5,2.5l-2.5,-2.5zM233.9,165.9l2.5,2.5l-2.5,2.5l-2.5,-2.5zM234.4,161.3l2.5,2.5l-2.5,2.5l-2.5,-2.5zM234.9,169.7l2.5,2.5l-2.5,2.5l-2.5,-2.5zM235.4,163.9l2.5,2.5l-2.5,2.5l-2.5,-2.5zM235.8,167.1l2.5,2.5l-2.5,2.5l-2.5,-2.5zM236.3,159.8l2.5,2.5l-2.5,2.5l-2.5,-2.5zM236.8,170.9l2.5,2.5l-2.5,2.5l-2.5,-2.5zM237.3,165.6l2.5,2.5l-2.5,2.5l-2.5,-2.5zM237.8,166.6l2.5,2.5l-2.5,2.5l-2.5,-2.5zM238.2,175.6l2.5,2.5l-2.5,2.5l-2.5,-2.5zM238.7,170.7l2.5,2.5l-2.5,2.5l-2.5,-2.5zM239.2,162.1l2.5,2.5l-2.5,2.5l-2.5,-2.5zM239.7,167.7l2.5,2.5l-2.5,2.5l-2.5,-2.5zM240.1,177.5l2.5,2.5l-2.5,2.5l-2.5,-2.5zM240.6,166.1l2.5,2.5l-2.5,2.5l-2.5,-2.5zM241.1,186.7l2.5,2.5l-2.5,2.5l-2.5,-2.5zM241.5,174.2l2.5,2.5l-2.5,2.5l-2.5,-2.5zM242.0,172.9l2.5,2.5l-2.5,2.5l-2.5,-2.5zM242.5,167.2l2.5,2.5l-2.5,2.5l-2.5,-2.5zM243.0,171.8l2.5,2.5l-2.5,2.5l-2.5,-2.5zM243.4,177.4l2.5,2.5l-2.5,2.5l-2.5,-2.5zM243.9,176.4l2.5,2.5l-2.5,2.5l-2.5,-2.5zM244.4,175.3l2.5,2.5l-2.5,2.5l-2.5,-2.5zM244.9,178.0l2.5,2.5l-2.5,2.5l-2.5,-2.5zM245.3,180.8l2.5,2.5l-2.5,2.5l-2.5,-2.5zM245.8,175.5l2.5,2.5l-2.5,2.5l-2.5,-2.5zM246.3,168.0l2.5,2.5l-2.5,2.5l-2.5,-2.5zM246.8,171.8l2.5,2.5l-2.5,2.5l-2.5,-2.5zM247.2,171.3l2.5,2.5l-2.5,2.5l-2.5,-2.5zM247.7,156.6l2.5,2.5l-2.5,2.5l-2.5,-2.5zM248.2,165.8l2.5,2.5l-2.5,2.5l-2.5,-2.5zM248.7,148.4l2.5,2.5l-2.5,2.5l-2.5,-2.5zM249.2,155.9l2.5,2.5l-2.5,2.5l-2.5,-2.5zM249.6,137.1l2.5,2.5l-2.5,2.5l-2.5,-2.5zM250.1,111.5l2.5,2.5l-2.5,2.5l-2.5,-2.5zM250.6,147.9l2.5,2.5l-2.5,2.5l-2.5,-2.5zM251.0,140.7l2.5,2.5l-2.5,2.5l-2.5,-2.5zM251.5,151.3l2.5,2.5l-2.5,2.5l-2.5,-2.5zM252.0,142.9l2.5,2.5l-2.5,2.5l-2.5,-2.5zM252.5,149.7l2.5,2.5l-2.5,2.5l-2.5,-2.5zM252.9,139.7l2.5,2.5l-2.5,2.5l-2.5,-2.5zM253.4,141.9l2.5,2.5l-2.5,2.5l-2.5,-2.5zM253.9,148.4l2.5,2.5l-2.5,2.5l-2.5,-2.5zM254.4,111.3l2.5,2.5l-2.5,2.5l-2.5,-2.5zM254.8,147.3l2.5,2.5l-2.5,2.5l-2.5,-2.5zM255.3,138.6l2.5,2.5l-2.5,2.5l-2.5,-2.5zM255.8,158.8l2.5,2.5l-2.5,2.5l-2.5,-2.5zM256.3,153.5l2.5,2.5l-2.5,2.5l-2.5,-2.5zM256.8,143.2l2.5,2.5l-2.5,2.5l-2.5,-2.5zM257.2,146.7l2.5,2.5l-2.5,2.5l-2.5,-2.5zM257.7,142.9l2.5,2.5l-2.5,2.5l-2.5,-2.5zM258.2,138.9l2.5,2.5l-2.5,2.5l-2.5,-2.5zM258.6,146.1l2.5,2.5l-2.5,2.5l-2.5,-2.5zM259.1,139.9l2.5,2.5l-2.5,2.5l-2.5,-2.5zM259.6,133.6l2.5,2.5l-2.5,2.5l-2.5,-2.5zM260.1,145.8l2.5,2.5l-2.5,2.5l-2.5,-2.5zM260.5,147.8l2.5,2.5l-2.5,2.5l-2.5,-2.5zM261.0,136.8l2.5,2.5l-2.5,2.5l-2.5,-2.5zM261.5,139.7l2.5,2.5l-2.5,2.5l-2.5,-2.5zM262.0,143.4l2.5,2.5l-2.5,2.5l-2.5,-2.5zM262.4,141.7l2.5,2.5l-2.5,2.5l-2.5,-2.5zM262.9,143.1l2.5,2.5l-2.5,2.5l-2.5,-2.5zM263.4,138.0l2.5,2.5l-2.5,2.5l-2.5,-2.5zM263.9,141.5l2.5,2.5l-2.5,2.5l-2.5,-2.5zM264.4,138.8l2.5,2.5l-2.5,2.5l-2.5,-2.5zM264.8,128.4l2.5,2.5l-2.5,2.5l-2.5,-2.5zM265.3,145.0l2.5,2.5l-2.5,2.5l-2.5,-2.5zM265.8,140.7l2.5,2.5l-2.5,2.5l-2.5,-2.5zM266.2,137.8l2.5,2.5l-2.5,2.5l-2.5,-2.5zM266.7,142.3l2.5,2.5l-2.5,2.5l-2.5,-2.5zM267.2,108.0l2.5,2.5l-2.5,2.5l-2.5,-2.5zM267.7,140.2l2.5,2.5l-2.5,2.5l-2.5,-2.5zM268.1,140.7l2.5,2.5l-2.5,2.5l-2.5,-2.5zM268.6,139.3l2.5,2.5l-2.5,2.5l-2.5,-2.5zM269.1,146.4l2.5,2.5l-2.5,2.5l-2.5,-2.5zM269.6,141.2l2.5,2.5l-2.5,2.5l-2.5,-2.5zM270.0,141.7l2.5,2.5l-2.5,2.5l-2.5,-2.5zM270.5,143.5l2.5,2.5l-2.5,2.5l-2.5,-2.5zM271.0,135.1l2.5,2.5l-2.5,2.5l-2.5,-2.5zM271.5,133.9l2.5,2.5l-2.5,2.5l-2.5,-2.5zM271.9,134.6l2.5,2.5l-2.5,2.5l-2.5,-2.5zM272.4,142.7l2.5,2.5l-2.5,2.5l-2.5,-2.5zM272.9,136.0l2.5,2.5l-2.5,2.5l-2.5,-2.5zM273.4,148.6l2.5,2.5l-2.5,2.5l-2.5,-2.5zM273.9,145.2l2.5,2.5l-2.5,2.5l-2.5,-2.5zM274.3,140.9l2.5,2.5l-2.5,2.5l-2.5,-2.5zM274.8,150.5l2.5,2.5l-2.5,2.5l-2.5,-2.5zM275.3,150.1l2.5,2.5l-2.5,2.5l-2.5,-2.5zM275.8,138.8l2.5,2.5l-2.5,2.5l-2.5,-2.5zM276.2,136.1l2.5,2.5l-2.5,2.5l-2.5,-2.5zM276.7,114.9l2.5,2.5l-2.5,2.5l-2.5,-2.5zM277.2,138.8l2.5,2.5l-2.5,2.5l-2.5,-2.5zM277.6,138.2l2.5,2.5l-2.5,2.5l-2.5,-2.5zM278.1,146.5l2.5,2.5l-2.5,2.5l-2.5,-2.5zM278.6,142.5l2.5,2.5l-2.5,2.5l-2.5,-2.5zM279.1,141.5l2.5,2.5l-2.5,2.5l-2.5,-2.5zM279.5,145.0l2.5,2.5l-2.5,2.5l-2.5,-2.5zM280.0,142.4l2.5,2.5l-2.5,2.5l-2.5,-2.5zM280.5,135.6l2.5,2.5l-2.5,2.5l-2.5,-2.5zM281.0,100.2l2.5,2.5l-2.5,2.5l-2.5,-2.5zM281.4,137.3l2.5,2.5l-2.5,2.5l-2.5,-2.5zM281.9,145.8l2.5,2.5l-2.5,2.5l-2.5,-2.5zM282.4,150.4l2.5,2.5l-2.5,2.5l-2.5,-2.5zM282.9,151.5l2.5,2.5l-2.5,2.5l-2.5,-2.5zM283.4,145.9l2.5,2.5l-2.5,2.5l-2.5,-2.5zM283.8,140.9l2.5,2.5l-2.5,2.5l-2.5,-2.5zM284.3,145.9l2.5,2.5l-2.5,2.5l-2.5,-2.5zM284.8,150.3l2.5,2.5l-2.5,2.5l-2.5,-2.5zM285.2,150.0l2.5,2.5l-2.5,2.5l-2.5,-2.5zM285.7,143.6l2.5,2.5l-2.5,2.5l-2.5,-2.5zM286.2,128.9l2.5,2.5l-2.5,2.5l-2.5,-2.5zM286.7,142.0l2.5,2.5l-2.5,2.5l-2.5,-2.5zM287.1,137.7l2.5,2.5l-2.5,2.5l-2.5,-2.5zM287.6,139.3l2.5,2.5l-2.5,2.5l-2.5,-2.5zM288.1,152.2l2.5,2.5l-2.5,2.5l-2.5,-2.5zM288.6,164.0l2.5,2.5l-2.5,2.5l-2.5,-2.5zM289.0,159.5l2.5,2.5l-2.5,2.5l-2.5,-2.5zM289.5,164.2l2.5,2.5l-2.5,2.5l-2.5,-2.5zM290.0,151.4l2.5,2.5l-2.5,2.5l-2.5,-2.5zM290.5,141.9l2.5,2.5l-2.5,2.5l-2.5,-2.5zM290.9,159.7l2.5,2.5l-2.5,2.5l-2.5,-2.5zM291.4,161.3l2.5,2.5l-2.5,2.5l-2.5,-2.5zM291.9,172.0l2.5,2.5l-2.5,2.5l-2.5,-2.5zM292.4,156.8l2.5,2.5l-2.5,2.5l-2.5,-2.5zM292.9,158.3l2.5,2.5l-2.5,2.5l-2.5,-2.5zM293.3,155.4l2.5,2.5l-2.5,2.5l-2.5,-2.5zM293.8,153.2l2.5,2.5l-2.5,2.5l-2.5,-2.5zM294.3,153.2l2.5,2.5l-2.5,2.5l-2.5,-2.5zM294.8,160.8l2.5,2.5l-2.5,2.5l-2.5,-2.5zM295.2,171.2l2.5,2.5l-2.5,2.5l-2.5,-2.5zM295.7,166.8l2.5,2.5l-2.5,2.5l-2.5,-2.5zM296.2,161.9l2.5,2.5l-2.5,2.5l-2.5,-2.5zM296.6,162.7l2.5,2.5l-2.5,2.5l-2.5,-2.5zM297.1,156.3l2.5,2.5l-2.5,2.5l-2.5,-2.5zM297.6,159.7l2.5,2.5l-2.5,2.5l-2.5,-2.5zM298.1,164.5l2.5,2.5l-2.5,2.5l-2.5,-2.5zM298.5,166.6l2.5,2.5l-2.5,2.5l-2.5,-2.5zM299.0,173.0l2.5,2.5l-2.5,2.5l-2.5,-2.5zM299.5,154.1l2.5,2.5l-2.5,2.5l-2.5,-2.5zM300.0,155.7l2.5,2.5l-2.5,2.5l-2.5,-2.5zM300.4,175.8l2.5,2.5l-2.5,2.5l-2.5,-2.5zM300.9,155.0l2.5,2.5l-2.5,2.5l-2.5,-2.5zM301.4,170.7l2.5,2.5l-2.5,2.5l-2.5,-2.5zM301.9,172.3l2.5,2.5l-2.5,2.5l-2.5,-2.5zM302.4,156.6l2.5,2.5l-2.5,2.5l-2.5,-2.5zM302.8,153.2l2.5,2.5l-2.5,2.5l-2.5,-2.5zM303.3,161.1l2.5,2.5l-2.5,2.5l-2.5,-2.5zM303.8,173.7l2.5,2.5l-2.5,2.5l-2.5,-2.5zM304.2,168.3l2.5,2.5l-2.5,2.5l-2.5,-2.5zM304.7,142.1l2.5,2.5l-2.5,2.5l-2.5,-2.5zM305.2,160.1l2.5,2.5l-2.5,2.5l-2.5,-2.5zM305.7,160.2l2.5,2.5l-2.5,2.5l-2.5,-2.5zM306.1,158.1l2.5,2.5l-2.5,2.5l-2.5,-2.5zM306.6,151.0l2.5,2.5l-2.5,2.5l-2.5,-2.5zM307.1,151.1l2.5,2.5l-2.5,2.5l-2.5,-2.5zM307.6,156.3l2.5,2.5l-2.5,2.5l-2.5,-2.5zM308.0,158.8l2.5,2.5l-2.5,2.5l-2.5,-2.5zM308.5,168.7l2.5,2.5l-2.5,2.5l-2.5,-2.5zM309.0,171.2l2.5,2.5l-2.5,2.5l-2.5,-2.5zM309.5,169.9l2.5,2.5l-2.5,2.5l-2.5,-2.5zM309.9,171.1l2.5,2.5l-2.5,2.5l-2.5,-2.5zM310.4,152.3l2.5,2.5l-2.5,2.5l-2.5,-2.5zM310.9,160.8l2.5,2.5l-2.5,2.5l-2.5,-2.5zM311.4,157.2l2.5,2.5l-2.5,2.5l-2.5,-2.5zM311.9,168.0l2.5,2.5l-2.5,2.5l-2.5,-2.5zM312.3,168.4l2.5,2.5l-2.5,2.5l-2.5,-2.5zM312.8,171.8l2.5,2.5l-2.5,2.5l-2.5,-2.5zM313.3,159.7l2.5,2.5l-2.5,2.5l-2.5,-2.5zM313.8,168.8l2.5,2.5l-2.5,2.5l-2.5,-2.5zM314.2,177.3l2.5,2.5l-2.5,2.5l-2.5,-2.5zM314.7,171.0l2.5,2.5l-2.5,2.5l-2.5,-2.5zM315.2,156.1l2.5,2.5l-2.5,2.5l-2.5,-2.5zM315.6,164.8l2.5,2.5l-2.5,2.5l-2.5,-2.5zM316.1,178.3l2.5,2.5l-2.5,2.5l-2.5,-2.5zM316.6,168.6l2.5,2.5l-2.5,2.5l-2.5,-2.5zM317.1,164.8l2.5,2.5l-2.5,2.5l-2.5,-2.5zM317.5,157.2l2.5,2.5l-2.5,2.5l-2.5,-2.5zM318.0,165.4l2.5,2.5l-2.5,2.5l-2.5,-2.5zM318.5,178.2l2.5,2.5l-2.5,2.5l-2.5,-2.5zM319.0,179.9l2.5,2.5l-2.5,2.5l-2.5,-2.5zM319.4,170.6l2.5,2.5l-2.5,2.5l-2.5,-2.5zM319.9,173.1l2.5,2.5l-2.5,2.5l-2.5,-2.5zM320.4,180.1l2.5,2.5l-2.5,2.5l-2.5,-2.5zM320.9,178.2l2.5,2.5l-2.5,2.5l-2.5,-2.5zM321.4,151.7l2.5,2.5l-2.5,2.5l-2.5,-2.5zM321.8,170.1l2.5,2.5l-2.5,2.5l-2.5,-2.5zM322.3,179.6l2.5,2.5l-2.5,2.5l-2.5,-2.5zM322.8,179.9l2.5,2.5l-2.5,2.5l-2.5,-2.5zM323.2,164.3l2.5,2.5l-2.5,2.5l-2.5,-2.5zM323.7,150.8l2.5,2.5l-2.5,2.5l-2.5,-2.5zM324.2,161.9l2.5,2.5l-2.5,2.5l-2.5,-2.5zM324.7,165.4l2.5,2.5l-2.5,2.5l-2.5,-2.5zM325.1,152.7l2.5,2.5l-2.5,2.5l-2.5,-2.5zM325.6,167.4l2.5,2.5l-2.5,2.5l-2.5,-2.5zM326.1,176.8l2.5,2.5l-2.5,2.5l-2.5,-2.5zM326.6,181.8l2.5,2.5l-2.5,2.5l-2.5,-2.5zM327.0,187.0l2.5,2.5l-2.5,2.5l-2.5,-2.5zM327.5,182.6l2.5,2.5l-2.5,2.5l-2.5,-2.5zM328.0,188.5l2.5,2.5l-2.5,2.5l-2.5,-2.5zM328.5,190.9l2.5,2.5l-2.5,2.5l-2.5,-2.5zM328.9,163.0l2.5,2.5l-2.5,2.5l-2.5,-2.5zM329.4,177.0l2.5,2.5l-2.5,2.5l-2.5,-2.5zM329.9,164.0l2.5,2.5l-2.5,2.5l-2.5,-2.5zM330.4,182.2l2.5,2.5l-2.5,2.5l-2.5,-2.5zM330.8,188.3l2.5,2.5l-2.5,2.5l-2.5,-2.5zM331.3,177.9l2.5,2.5l-2.5,2.5l-2.5,-2.5zM331.8,188.1l2.5,2.5l-2.5,2.5l-2.5,-2.5zM332.3,173.7l2.5,2.5l-2.5,2.5l-2.5,-2.5zM332.8,184.9l2.5,2.5l-2.5,2.5l-2.5,-2.5zM333.2,158.9l2.5,2.5l-2.5,2.5l-2.5,-2.5zM333.7,180.6l2.5,2.5l-2.5,2.5l-2.5,-2.5zM334.2,176.8l2.5,2.5l-2.5,2.5l-2.5,-2.5zM334.6,176.9l2.5,2.5l-2.5,2.5l-2.5,-2.5zM335.1,178.6l2.5,2.5l-2.5,2.5l-2.5,-2.5zM335.6,169.3l2.5,2.5l-2.5,2.5l-2.5,-2.5zM336.1,162.6l2.5,2.5l-2.5,2.5l-2.5,-2.5zM336.6,181.9l2.5,2.5l-2.5,2.5l-2.5,-2.5zM337.0,166.3l2.5,2.5l-2.5,2.5l-2.5,-2.5zM337.5,186.8l2.5,2.5l-2.5,2.5l-2.5,-2.5zM338.0,171.2l2.5,2.5l-2.5,2.5l-2.5,-2.5zM338.4,167.3l2.5,2.5l-2.5,2.5l-2.5,-2.5zM338.9,164.4l2.5,2.5l-2.5,2.5l-2.5,-2.5zM339.4,191.7l2.5,2.5l-2.5,2.5l-2.5,-2.5zM339.9,179.6l2.5,2.5l-2.5,2.5l-2.5,-2.5zM340.3,144.6l2.5,2.5l-2.5,2.5l-2.5,-2.5zM340.8,157.8l2.5,2.5l-2.5,2.5l-2.5,-2.5zM341.3,163.7l2.5,2.5l-2.5,2.5l-2.5,-2.5zM341.8,161.9l2.5,2.5l-2.5,2.5l-2.5,-2.5zM342.2,165.2l2.5,2.5l-2.5,2.5l-2.5,-2.5zM342.7,179.7l2.5,2.5l-2.5,2.5l-2.5,-2.5zM343.2,164.8l2.5,2.5l-2.5,2.5l-2.5,-2.5zM343.7,181.2l2.5,2.5l-2.5,2.5l-2.5,-2.5zM344.1,171.9l2.5,2.5l-2.5,2.5l-2.5,-2.5zM344.6,177.6l2.5,2.5l-2.5,2.5l-2.5,-2.5zM345.1,178.8l2.5,2.5l-2.5,2.5l-2.5,-2.5zM345.6,175.6l2.5,2.5l-2.5,2.5l-2.5,-2.5zM346.1,157.3l2.5,2.5l-2.5,2.5l-2.5,-2.5zM346.5,156.0l2.5,2.5l-2.5,2.5l-2.5,-2.5zM347.0,172.3l2.5,2.5l-2.5,2.5l-2.5,-2.5zM347.5,152.3l2.5,2.5l-2.5,2.5l-2.5,-2.5zM347.9,157.9l2.5,2.5l-2.5,2.5l-2.5,-2.5zM348.4,152.8l2.5,2.5l-2.5,2.5l-2.5,-2.5zM348.9,161.9l2.5,2.5l-2.5,2.5l-2.5,-2.5zM349.4,151.8l2.5,2.5l-2.5,2.5l-2.5,-2.5zM349.8,162.9l2.5,2.5l-2.5,2.5l-2.5,-2.5zM350.3,161.4l2.5,2.5l-2.5,2.5l-2.5,-2.5zM350.8,177.0l2.5,2.5l-2.5,2.5l-2.5,-2.5zM351.3,186.1l2.5,2.5l-2.5,2.5l-2.5,-2.5zM351.8,165.2l2.5,2.5l-2.5,2.5l-2.5,-2.5zM352.2,185.0l2.5,2.5l-2.5,2.5l-2.5,-2.5zM352.7,174.1l2.5,2.5l-2.5,2.5l-2.5,-2.5zM353.2,183.4l2.5,2.5l-2.5,2.5l-2.5,-2.5zM353.6,174.0l2.5,2.5l-2.5,2.5l-2.5,-2.5zM354.1,171.1l2.5,2.5l-2.5,2.5l-2.5,-2.5zM354.6,162.3l2.5,2.5l-2.5,2.5l-2.5,-2.5zM355.1,174.1l2.5,2.5l-2.5,2.5l-2.5,-2.5zM355.6,183.4l2.5,2.5l-2.5,2.5l-2.5,-2.5zM356.0,172.7l2.5,2.5l-2.5,2.5l-2.5,-2.5zM356.5,191.9l2.5,2.5l-2.5,2.5l-2.5,-2.5zM357.0,172.5l2.5,2.5l-2.5,2.5l-2.5,-2.5zM357.4,189.1l2.5,2.5l-2.5,2.5l-2.5,-2.5zM357.9,175.9l2.5,2.5l-2.5,2.5l-2.5,-2.5zM358.4,177.3l2.5,2.5l-2.5,2.5l-2.5,-2.5zM358.9,181.9l2.5,2.5l-2.5,2.5l-2.5,-2.5zM359.3,162.7l2.5,2.5l-2.5,2.5l-2.5,-2.5zM359.8,185.4l2.5,2.5l-2.5,2.5l-2.5,-2.5zM360.3,191.7l2.5,2.5l-2.5,2.5l-2.5,-2.5zM360.8,164.0l2.5,2.5l-2.5,2.5l-2.5,-2.5zM361.2,156.9l2.5,2.5l-2.5,2.5l-2.5,-2.5zM361.7,161.0l2.5,2.5l-2.5,2.5l-2.5,-2.5zM362.2,180.8l2.5,2.5l-2.5,2.5l-2.5,-2.5zM362.7,188.1l2.5,2.5l-2.5,2.5l-2.5,-2.5zM363.1,188.1l2.5,2.5l-2.5,2.5l-2.5,-2.5zM363.6,191.6l2.5,2.5l-2.5,2.5l-2.5,-2.5zM364.1,170.1l2.5,2.5l-2.5,2.5l-2.5,-2.5zM364.6,174.7l2.5,2.5l-2.5,2.5l-2.5,-2.5zM365.1,146.1l2.5,2.5l-2.5,2.5l-2.5,-2.5zM365.5,162.9l2.5,2.5l-2.5,2.5l-2.5,-2.5zM366.0,152.1l2.5,2.5l-2.5,2.5l-2.5,-2.5zM366.5,181.9l2.5,2.5l-2.5,2.5l-2.5,-2.5zM366.9,155.3l2.5,2.5l-2.5,2.5l-2.5,-2.5zM367.4,176.7l2.5,2.5l-2.5,2.5l-2.5,-2.5zM367.9,172.3l2.5,2.5l-2.5,2.5l-2.5,-2.5zM368.4,166.7l2.5,2.5l-2.5,2.5l-2.5,-2.5zM368.8,190.4l2.5,2.5l-2.5,2.5l-2.5,-2.5zM369.3,162.6l2.5,2.5l-2.5,2.5l-2.5,-2.5zM369.8,184.1l2.5,2.5l-2.5,2.5l-2.5,-2.5zM370.3,174.5l2.5,2.5l-2.5,2.5l-2.5,-2.5zM370.8,191.4l2.5,2.5l-2.5,2.5l-2.5,-2.5zM371.2,187.7l2.5,2.5l-2.5,2.5l-2.5,-2.5zM371.7,155.0l2.5,2.5l-2.5,2.5l-2.5,-2.5zM372.2,171.2l2.5,2.5l-2.5,2.5l-2.5,-2.5zM372.6,166.0l2.5,2.5l-2.5,2.5l-2.5,-2.5zM373.1,152.9l2.5,2.5l-2.5,2.5l-2.5,-2.5zM373.6,183.8l2.5,2.5l-2.5,2.5l-2.5,-2.5zM374.1,191.9l2.5,2.5l-2.5,2.5l-2.5,-2.5zM374.6,176.2l2.5,2.5l-2.5,2.5l-2.5,-2.5zM375.0,167.2l2.5,2.5l-2.5,2.5l-2.5,-2.5zM375.5,193.6l2.5,2.5l-2.5,2.5l-2.5,-2.5zM376.0,178.3l2.5,2.5l-2.5,2.5l-2.5,-2.5zM376.4,168.0l2.5,2.5l-2.5,2.5l-2.5,-2.5zM376.9,196.7l2.5,2.5l-2.5,2.5l-2.5,-2.5zM377.4,198.2l2.5,2.5l-2.5,2.5l-2.5,-2.5zM377.9,184.4l2.5,2.5l-2.5,2.5l-2.5,-2.5zM378.3,183.5l2.5,2.5l-2.5,2.5l-2.5,-2.5zM378.8,194.7l2.5,2.5l-2.5,2.5l-2.5,-2.5zM379.3,179.4l2.5,2.5l-2.5,2.5l-2.5,-2.5zM379.8,183.5l2.5,2.5l-2.5,2.5l-2.5,-2.5zM380.2,189.1l2.5,2.5l-2.5,2.5l-2.5,-2.5zM380.7,180.5l2.5,2.5l-2.5,2.5l-2.5,-2.5zM381.2,174.6l2.5,2.5l-2.5,2.5l-2.5,-2.5zM381.7,184.2l2.5,2.5l-2.5,2.5l-2.5,-2.5zM382.1,192.9l2.5,2.5l-2.5,2.5l-2.5,-2.5zM382.6,175.9l2.5,2.5l-2.5,2.5l-2.5,-2.5zM383.1,189.9l2.5,2.5l-2.5,2.5l-2.5,-2.5zM383.6,187.2l2.5,2.5l-2.5,2.5l-2.5,-2.5zM384.1,189.3l2.5,2.5l-2.5,2.5l-2.5,-2.5zM384.5,186.4l2.5,2.5l-2.5,2.5l-2.5,-2.5zM385.0,173.7l2.5,2.5l-2.5,2.5l-2.5,-2.5zM385.5,185.9l2.5,2.5l-2.5,2.5l-2.5,-2.5zM385.9,189.9l2.5,2.5l-2.5,2.5l-2.5,-2.5zM386.4,172.5l2.5,2.5l-2.5,2.5l-2.5,-2.5zM386.9,166.0l2.5,2.5l-2.5,2.5l-2.5,-2.5zM387.4,162.9l2.5,2.5l-2.5,2.5l-2.5,-2.5zM387.8,158.5l2.5,2.5l-2.5,2.5l-2.5,-2.5zM388.3,154.3l2.5,2.5l-2.5,2.5l-2.5,-2.5zM388.8,123.0l2.5,2.5l-2.5,2.5l-2.5,-2.5zM389.3,147.3l2.5,2.5l-2.5,2.5l-2.5,-2.5zM389.8,144.5l2.5,2.5l-2.5,2.5l-2.5,-2.5zM390.2,154.5l2.5,2.5l-2.5,2.5l-2.5,-2.5zM390.7,148.5l2.5,2.5l-2.5,2.5l-2.5,-2.5zM391.2,133.1l2.5,2.5l-2.5,2.5l-2.5,-2.5zM391.6,153.9l2.5,2.5l-2.5,2.5l-2.5,-2.5zM392.1,155.3l2.5,2.5l-2.5,2.5l-2.5,-2.5zM392.6,148.8l2.5,2.5l-2.5,2.5l-2.5,-2.5zM393.1,148.1l2.5,2.5l-2.5,2.5l-2.5,-2.5zM393.6,120.9l2.5,2.5l-2.5,2.5l-2.5,-2.5zM394.0,149.1l2.5,2.5l-2.5,2.5l-2.5,-2.5zM394.5,140.3l2.5,2.5l-2.5,2.5l-2.5,-2.5zM395.0,142.6l2.5,2.5l-2.5,2.5l-2.5,-2.5zM395.4,142.1l2.5,2.5l-2.5,2.5l-2.5,-2.5zM395.9,141.0l2.5,2.5l-2.5,2.5l-2.5,-2.5zM396.4,139.6l2.5,2.5l-2.5,2.5l-2.5,-2.5zM396.9,126.0l2.5,2.5l-2.5,2.5l-2.5,-2.5zM397.3,144.9l2.5,2.5l-2.5,2.5l-2.5,-2.5zM397.8,154.9l2.5,2.5l-2.5,2.5l-2.5,-2.5zM398.3,150.8l2.5,2.5l-2.5,2.5l-2.5,-2.5zM398.8,152.8l2.5,2.5l-2.5,2.5l-2.5,-2.5zM399.2,151.6l2.5,2.5l-2.5,2.5l-2.5,-2.5zM399.7,149.7l2.5,2.5l-2.5,2.5l-2.5,-2.5zM400.2,154.9l2.5,2.5l-2.5,2.5l-2.5,-2.5zM400.7,165.8l2.5,2.5l-2.5,2.5l-2.5,-2.5zM401.1,147.4l2.5,2.5l-2.5,2.5l-2.5,-2.5zM401.6,155.0l2.5,2.5l-2.5,2.5l-2.5,-2.5zM402.1,148.3l2.5,2.5l-2.5,2.5l-2.5,-2.5zM402.6,141.4l2.5,2.5l-2.5,2.5l-2.5,-2.5zM403.1,159.3l2.5,2.5l-2.5,2.5l-2.5,-2.5zM403.5,162.8l2.5,2.5l-2.5,2.5l-2.5,-2.5zM404.0,160.4l2.5,2.5l-2.5,2.5l-2.5,-2.5zM404.5,151.7l2.5,2.5l-2.5,2.5l-2.5,-2.5zM404.9,154.5l2.5,2.5l-2.5,2.5l-2.5,-2.5zM405.4,164.1l2.5,2.5l-2.5,2.5l-2.5,-2.5zM405.9,161.2l2.5,2.5l-2.5,2.5l-2.5,-2.5zM406.4,161.9l2.5,2.5l-2.5,2.5l-2.5,-2.5zM406.8,154.1l2.5,2.5l-2.5,2.5l-2.5,-2.5zM407.3,132.7l2.5,2.5l-2.5,2.5l-2.5,-2.5zM407.8,152.3l2.5,2.5l-2.5,2.5l-2.5,-2.5zM408.3,160.9l2.5,2.5l-2.5,2.5l-2.5,-2.5zM408.8,151.8l2.5,2.5l-2.5,2.5l-2.5,-2.5zM409.2,166.8l2.5,2.5l-2.5,2.5l-2.5,-2.5zM409.7,171.1l2.5,2.5l-2.5,2.5l-2.5,-2.5zM410.2,157.2l2.5,2.5l-2.5,2.5l-2.5,-2.5zM410.6,153.2l2.5,2.5l-2.5,2.5l-2.5,-2.5zM411.1,159.6l2.5,2.5l-2.5,2.5l-2.5,-2.5zM411.6,158.1l2.5,2.5l-2.5,2.5l-2.5,-2.5zM412.1,166.2l2.5,2.5l-2.5,2.5l-2.5,-2.5zM412.6,170.8l2.5,2.5l-2.5,2.5l-2.5,-2.5zM413.0,163.1l2.5,2.5l-2.5,2.5l-2.5,-2.5zM413.5,164.1l2.5,2.5l-2.5,2.5l-2.5,-2.5zM414.0,138.3l2.5,2.5l-2.5,2.5l-2.5,-2.5zM414.4,160.5l2.5,2.5l-2.5,2.5l-2.5,-2.5zM414.9,152.5l2.5,2.5l-2.5,2.5l-2.5,-2.5zM415.4,163.9l2.5,2.5l-2.5,2.5l-2.5,-2.5zM415.9,134.1l2.5,2.5l-2.5,2.5l-2.5,-2.5zM416.3,162.7l2.5,2.5l-2.5,2.5l-2.5,-2.5zM416.8,152.1l2.5,2.5l-2.5,2.5l-2.5,-2.5zM417.3,147.8l2.5,2.5l-2.5,2.5l-2.5,-2.5zM417.8,154.6l2.5,2.5l-2.5,2.5l-2.5,-2.5zM418.2,163.4l2.5,2.5l-2.5,2.5l-2.5,-2.5zM418.7,154.2l2.5,2.5l-2.5,2.5l-2.5,-2.5zM419.2,162.7l2.5,2.5l-2.5,2.5l-2.5,-2.5zM419.7,164.5l2.5,2.5l-2.5,2.5l-2.5,-2.5zM420.1,155.4l2.5,2.5l-2.5,2.5l-2.5,-2.5zM420.6,157.2l2.5,2.5l-2.5,2.5l-2.5,-2.5zM421.1,149.1l2.5,2.5l-2.5,2.5l-2.5,-2.5zM421.6,158.6l2.5,2.5l-2.5,2.5l-2.5,-2.5zM422.1,168.7l2.5,2.5l-2.5,2.5l-2.5,-2.5zM422.5,164.5l2.5,2.5l-2.5,2.5l-2.5,-2.5zM423.0,167.8l2.5,2.5l-2.5,2.5l-2.5,-2.5zM423.5,158.5l2.5,2.5l-2.5,2.5l-2.5,-2.5zM423.9,177.2l2.5,2.5l-2.5,2.5l-2.5,-2.5zM424.4,159.2l2.5,2.5l-2.5,2.5l-2.5,-2.5zM424.9,154.6l2.5,2.5l-2.5,2.5l-2.5,-2.5zM425.4,151.8l2.5,2.5l-2.5,2.5l-2.5,-2.5zM425.8,166.0l2.5,2.5l-2.5,2.5l-2.5,-2.5zM426.3,163.3l2.5,2.5l-2.5,2.5l-2.5,-2.5zM426.8,173.1l2.5,2.5l-2.5,2.5l-2.5,-2.5zM427.3,166.8l2.5,2.5l-2.5,2.5l-2.5,-2.5zM427.8,159.0l2.5,2.5l-2.5,2.5l-2.5,-2.5zM428.2,160.2l2.5,2.5l-2.5,2.5l-2.5,-2.5zM428.7,160.8l2.5,2.5l-2.5,2.5l-2.5,-2.5zM429.2,174.5l2.5,2.5l-2.5,2.5l-2.5,-2.5zM429.6,163.8l2.5,2.5l-2.5,2.5l-2.5,-2.5zM430.1,168.0l2.5,2.5l-2.5,2.5l-2.5,-2.5zM430.6,161.0l2.5,2.5l-2.5,2.5l-2.5,-2.5zM431.1,171.8l2.5,2.5l-2.5,2.5l-2.5,-2.5zM431.6,166.6l2.5,2.5l-2.5,2.5l-2.5,-2.5zM432.0,170.6l2.5,2.5l-2.5,2.5l-2.5,-2.5zM432.5,179.1l2.5,2.5l-2.5,2.5l-2.5,-2.5zM433.0,167.3l2.5,2.5l-2.5,2.5l-2.5,-2.5zM433.4,151.2l2.5,2.5l-2.5,2.5l-2.5,-2.5zM433.9,175.1l2.5,2.5l-2.5,2.5l-2.5,-2.5zM434.4,158.6l2.5,2.5l-2.5,2.5l-2.5,-2.5zM434.9,183.8l2.5,2.5l-2.5,2.5l-2.5,-2.5zM435.3,179.5l2.5,2.5l-2.5,2.5l-2.5,-2.5zM435.8,159.7l2.5,2.5l-2.5,2.5l-2.5,-2.5zM436.3,164.3l2.5,2.5l-2.5,2.5l-2.5,-2.5zM436.8,155.7l2.5,2.5l-2.5,2.5l-2.5,-2.5zM437.2,167.9l2.5,2.5l-2.5,2.5l-2.5,-2.5zM437.7,175.4l2.5,2.5l-2.5,2.5l-2.5,-2.5zM438.2,176.5l2.5,2.5l-2.5,2.5l-2.5,-2.5zM438.7,164.2l2.5,2.5l-2.5,2.5l-2.5,-2.5zM439.1,174.2l2.5,2.5l-2.5,2.5l-2.5,-2.5zM439.6,176.5l2.5,2.5l-2.5,2.5l-2.5,-2.5zM440.1,166.2l2.5,2.5l-2.5,2.5l-2.5,-2.5zM440.6,166.3l2.5,2.5l-2.5,2.5l-2.5,-2.5zM441.0,166.4l2.5,2.5l-2.5,2.5l-2.5,-2.5zM441.5,160.9l2.5,2.5l-2.5,2.5l-2.5,-2.5zM442.0,179.0l2.5,2.5l-2.5,2.5l-2.5,-2.5zM442.5,163.0l2.5,2.5l-2.5,2.5l-2.5,-2.5zM442.9,177.1l2.5,2.5l-2.5,2.5l-2.5,-2.5zM443.4,181.7l2.5,2.5l-2.5,2.5l-2.5,-2.5zM443.9,164.5l2.5,2.5l-2.5,2.5l-2.5,-2.5zM444.4,150.8l2.5,2.5l-2.5,2.5l-2.5,-2.5zM444.8,177.2l2.5,2.5l-2.5,2.5l-2.5,-2.5zM445.3,169.4l2.5,2.5l-2.5,2.5l-2.5,-2.5zM445.8,175.8l2.5,2.5l-2.5,2.5l-2.5,-2.5zM446.3,174.8l2.5,2.5l-2.5,2.5l-2.5,-2.5zM446.8,171.1l2.5,2.5l-2.5,2.5l-2.5,-2.5zM447.2,167.5l2.5,2.5l-2.5,2.5l-2.5,-2.5zM447.7,167.0l2.5,2.5l-2.5,2.5l-2.5,-2.5zM448.2,160.5l2.5,2.5l-2.5,2.5l-2.5,-2.5zM448.6,188.1l2.5,2.5l-2.5,2.5l-2.5,-2.5zM449.1,194.9l2.5,2.5l-2.5,2.5l-2.5,-2.5zM449.6,184.1l2.5,2.5l-2.5,2.5l-2.5,-2.5zM450.1,181.5l2.5,2.5l-2.5,2.5l-2.5,-2.5zM450.5,175.7l2.5,2.5l-2.5,2.5l-2.5,-2.5zM451.0,188.2l2.5,2.5l-2.5,2.5l-2.5,-2.5zM451.5,177.4l2.5,2.5l-2.5,2.5l-2.5,-2.5zM452.0,181.9l2.5,2.5l-2.5,2.5l-2.5,-2.5zM452.4,185.0l2.5,2.5l-2.5,2.5l-2.5,-2.5zM452.9,173.4l2.5,2.5l-2.5,2.5l-2.5,-2.5zM453.4,161.6l2.5,2.5l-2.5,2.5l-2.5,-2.5zM453.9,189.3l2.5,2.5l-2.5,2.5l-2.5,-2.5zM454.3,165.2l2.5,2.5l-2.5,2.5l-2.5,-2.5zM454.8,167.2l2.5,2.5l-2.5,2.5l-2.5,-2.5zM455.3,180.9l2.5,2.5l-2.5,2.5l-2.5,-2.5zM455.8,193.9l2.5,2.5l-2.5,2.5l-2.5,-2.5zM456.2,183.3l2.5,2.5l-2.5,2.5l-2.5,-2.5zM456.7,174.0l2.5,2.5l-2.5,2.5l-2.5,-2.5zM457.2,170.2l2.5,2.5l-2.5,2.5l-2.5,-2.5zM457.7,185.9l2.5,2.5l-2.5,2.5l-2.5,-2.5zM458.1,189.5l2.5,2.5l-2.5,2.5l-2.5,-2.5zM458.6,195.5l2.5,2.5l-2.5,2.5l-2.5,-2.5zM459.1,180.2l2.5,2.5l-2.5,2.5l-2.5,-2.5zM459.6,170.1l2.5,2.5l-2.5,2.5l-2.5,-2.5zM460.0,185.0l2.5,2.5l-2.5,2.5l-2.5,-2.5zM460.5,175.3l2.5,2.5l-2.5,2.5l-2.5,-2.5zM461.0,160.0l2.5,2.5l-2.5,2.5l-2.5,-2.5zM461.5,166.4l2.5,2.5l-2.5,2.5l-2.5,-2.5zM461.9,142.1l2.5,2.5l-2.5,2.5l-2.5,-2.5zM462.4,111.5l2.5,2.5l-2.5,2.5l-2.5,-2.5zM462.9,142.7l2.5,2.5l-2.5,2.5l-2.5,-2.5zM463.4,165.9l2.5,2.5l-2.5,2.5l-2.5,-2.5zM463.8,159.3l2.5,2.5l-2.5,2.5l-2.5,-2.5zM464.3,157.2l2.5,2.5l-2.5,2.5l-2.5,-2.5zM464.8,143.2l2.5,2.5l-2.5,2.5l-2.5,-2.5zM465.3,163.7l2.5,2.5l-2.5,2.5l-2.5,-2.5zM465.8,160.0l2.5,2.5l-2.5,2.5l-2.5,-2.5zM466.2,170.7l2.5,2.5l-2.5,2.5l-2.5,-2.5zM466.7,154.1l2.5,2.5l-2.5,2.5l-2.5,-2.5zM467.2,161.6l2.5,2.5l-2.5,2.5l-2.5,-2.5zM467.6,167.9l2.5,2.5l-2.5,2.5l-2.5,-2.5zM468.1,157.1l2.5,2.5l-2.5,2.5l-2.5,-2.5zM468.6,152.1l2.5,2.5l-2.5,2.5l-2.5,-2.5zM469.1,165.5l2.5,2.5l-2.5,2.5l-2.5,-2.5zM469.5,154.1l2.5,2.5l-2.5,2.5l-2.5,-2.5zM470.0,159.9l2.5,2.5l-2.5,2.5l-2.5,-2.5zM470.5,166.4l2.5,2.5l-2.5,2.5l-2.5,-2.5zM471.0,175.6l2.5,2.5l-2.5,2.5l-2.5,-2.5zM471.4,158.1l2.5,2.5l-2.5,2.5l-2.5,-2.5zM471.9,175.0l2.5,2.5l-2.5,2.5l-2.5,-2.5zM472.4,171.0l2.5,2.5l-2.5,2.5l-2.5,-2.5zM472.9,175.0l2.5,2.5l-2.5,2.5l-2.5,-2.5zM473.3,158.2l2.5,2.5l-2.5,2.5l-2.5,-2.5zM473.8,166.3l2.5,2.5l-2.5,2.5l-2.5,-2.5zM474.3,176.4l2.5,2.5l-2.5,2.5l-2.5,-2.5zM474.8,150.9l2.5,2.5l-2.5,2.5l-2.5,-2.5zM475.2,179.3l2.5,2.5l-2.5,2.5l-2.5,-2.5zM82.3,37.8l2.5,2.5l-2.5,2.5l-2.5,-2.5zM76.8,84.0l2.5,2.5l-2.5,2.5l-2.5,-2.5zM75.7,91.8l2.5,2.5l-2.5,2.5l-2.5,-2.5zM78.5,99.0l2.5,2.5l-2.5,2.5l-2.5,-2.5zM89.8,99.0l2.5,2.5l-2.5,2.5l-2.5,-2.5zM84.3,102.3l2.5,2.5l-2.5,2.5l-2.5,-2.5zM83.7,106.8l2.5,2.5l-2.5,2.5l-2.5,-2.5zM83.7,111.2l2.5,2.5l-2.5,2.5l-2.5,-2.5zM74.8,116.2l2.5,2.5l-2.5,2.5l-2.5,-2.5zM78.5,116.2l2.5,2.5l-2.5,2.5l-2.5,-2.5zM91.8,115.5l2.5,2.5l-2.5,2.5l-2.5,-2.5zM94.5,115.5l2.5,2.5l-2.5,2.5l-2.5,-2.5zM114.5,91.8l2.5,2.5l-2.5,2.5l-2.5,-2.5zM113.5,102.3l2.5,2.5l-2.5,2.5l-2.5,-2.5zM183.7,102.3l2.5,2.5l-2.5,2.5l-2.5,-2.5zM118.5,125.7l2.5,2.5l-2.5,2.5l-2.5,-2.5zM151.5,125.7l2.5,2.5l-2.5,2.5l-2.5,-2.5zM184.8,126.5l2.5,2.5l-2.5,2.5l-2.5,-2.5zM73.5,127.3l2.5,2.5l-2.5,2.5l-2.5,-2.5zM114.5,129.8l2.5,2.5l-2.5,2.5l-2.5,-2.5zM112.7,132.3l2.5,2.5l-2.5,2.5l-2.5,-2.5zM100.3,133.5l2.5,2.5l-2.5,2.5l-2.5,-2.5zM101.5,139.3l2.5,2.5l-2.5,2.5l-2.5,-2.5zM88.2,134.8l2.5,2.5l-2.5,2.5l-2.5,-2.5zM156.5,139.3l2.5,2.5l-2.5,2.5l-2.5,-2.5zM185.7,133.5l2.5,2.5l-2.5,2.5l-2.5,-2.5zM183.7,136.2l2.5,2.5l-2.5,2.5l-2.5,-2.5zM187.7,139.3l2.5,2.5l-2.5,2.5l-2.5,-2.5zM182.3,141.5l2.5,2.5l-2.5,2.5l-2.5,-2.5zM126.0,142.8l2.5,2.5l-2.5,2.5l-2.5,-2.5zM122.0,144.5l2.5,2.5l-2.5,2.5l-2.5,-2.5zM112.7,144.0l2.5,2.5l-2.5,2.5l-2.5,-2.5zM75.7,143.2l2.5,2.5l-2.5,2.5l-2.5,-2.5zM280.7,54.8l2.5,2.5l-2.5,2.5l-2.5,-2.5zM267.3,67.8l2.5,2.5l-2.5,2.5l-2.5,-2.5zM250.3,70.8l2.5,2.5l-2.5,2.5l-2.5,-2.5zM276.8,73.7l2.5,2.5l-2.5,2.5l-2.5,-2.5zM281.5,74.8l2.5,2.5l-2.5,2.5l-2.5,-2.5zM282.7,78.7l2.5,2.5l-2.5,2.5l-2.5,-2.5zM266.5,82.0l2.5,2.5l-2.5,2.5l-2.5,-2.5zM282.7,84.0l2.5,2.5l-2.5,2.5l-2.5,-2.5zM286.5,90.7l2.5,2.5l-2.5,2.5l-2.5,-2.5zM263.7,94.5l2.5,2.5l-2.5,2.5l-2.5,-2.5zM281.5,96.8l2.5,2.5l-2.5,2.5l-2.5,-2.5zM278.7,99.0l2.5,2.5l-2.5,2.5l-2.5,-2.5zM259.8,102.3l2.5,2.5l-2.5,2.5l-2.5,-2.5zM271.0,103.2l2.5,2.5l-2.5,2.5l-2.5,-2.5zM261.5,107.7l2.5,2.5l-2.5,2.5l-2.5,-2.5zM263.2,108.5l2.5,2.5l-2.5,2.5l-2.5,-2.5zM249.3,109.8l2.5,2.5l-2.5,2.5l-2.5,-2.5zM252.7,110.7l2.5,2.5l-2.5,2.5l-2.5,-2.5zM281.0,109.5l2.5,2.5l-2.5,2.5l-2.5,-2.5zM305.3,111.5l2.5,2.5l-2.5,2.5l-2.5,-2.5zM232.3,117.3l2.5,2.5l-2.5,2.5l-2.5,-2.5zM252.0,116.2l2.5,2.5l-2.5,2.5l-2.5,-2.5zM257.0,118.2l2.5,2.5l-2.5,2.5l-2.5,-2.5zM307.7,117.7l2.5,2.5l-2.5,2.5l-2.5,-2.5zM283.7,119.0l2.5,2.5l-2.5,2.5l-2.5,-2.5zM340.7,120.2l2.5,2.5l-2.5,2.5l-2.5,-2.5zM253.2,122.0l2.5,2.5l-2.5,2.5l-2.5,-2.5zM268.2,122.0l2.5,2.5l-2.5,2.5l-2.5,-2.5zM272.3,122.0l2.5,2.5l-2.5,2.5l-2.5,-2.5zM276.0,122.0l2.5,2.5l-2.5,2.5l-2.5,-2.5zM288.2,125.2l2.5,2.5l-2.5,2.5l-2.5,-2.5zM321.5,128.7l2.5,2.5l-2.5,2.5l-2.5,-2.5zM349.8,127.8l2.5,2.5l-2.5,2.5l-2.5,-2.5zM348.7,129.8l2.5,2.5l-2.5,2.5l-2.5,-2.5zM253.2,126.5l2.5,2.5l-2.5,2.5l-2.5,-2.5zM254.0,129.8l2.5,2.5l-2.5,2.5l-2.5,-2.5zM271.5,130.7l2.5,2.5l-2.5,2.5l-2.5,-2.5zM277.3,129.8l2.5,2.5l-2.5,2.5l-2.5,-2.5zM264.8,131.5l2.5,2.5l-2.5,2.5l-2.5,-2.5zM286.0,131.5l2.5,2.5l-2.5,2.5l-2.5,-2.5zM341.5,133.5l2.5,2.5l-2.5,2.5l-2.5,-2.5zM254.0,135.7l2.5,2.5l-2.5,2.5l-2.5,-2.5zM332.7,138.2l2.5,2.5l-2.5,2.5l-2.5,-2.5zM349.0,139.0l2.5,2.5l-2.5,2.5l-2.5,-2.5zM311.0,139.8l2.5,2.5l-2.5,2.5l-2.5,-2.5zM227.0,139.0l2.5,2.5l-2.5,2.5l-2.5,-2.5zM230.7,139.8l2.5,2.5l-2.5,2.5l-2.5,-2.5zM222.0,142.8l2.5,2.5l-2.5,2.5l-2.5,-2.5zM233.2,142.8l2.5,2.5l-2.5,2.5l-2.5,-2.5zM228.2,144.5l2.5,2.5l-2.5,2.5l-2.5,-2.5zM289.8,141.8l2.5,2.5l-2.5,2.5l-2.5,-2.5zM299.8,144.8l2.5,2.5l-2.5,2.5l-2.5,-2.5zM304.0,144.8l2.5,2.5l-2.5,2.5l-2.5,-2.5zM364.0,117.3l2.5,2.5l-2.5,2.5l-2.5,-2.5zM402.2,104.0l2.5,2.5l-2.5,2.5l-2.5,-2.5zM465.8,106.2l2.5,2.5l-2.5,2.5l-2.5,-2.5zM414.5,111.2l2.5,2.5l-2.5,2.5l-2.5,-2.5zM365.0,117.3l2.5,2.5l-2.5,2.5l-2.5,-2.5zM391.7,118.2l2.5,2.5l-2.5,2.5l-2.5,-2.5zM417.5,117.3l2.5,2.5l-2.5,2.5l-2.5,-2.5zM424.2,119.5l2.5,2.5l-2.5,2.5l-2.5,-2.5zM473.3,125.7l2.5,2.5l-2.5,2.5l-2.5,-2.5zM350.0,127.8l2.5,2.5l-2.5,2.5l-2.5,-2.5zM389.2,127.3l2.5,2.5l-2.5,2.5l-2.5,-2.5zM437.5,129.8l2.5,2.5l-2.5,2.5l-2.5,-2.5zM443.0,130.7l2.5,2.5l-2.5,2.5l-2.5,-2.5zM462.5,127.3l2.5,2.5l-2.5,2.5l-2.5,-2.5zM365.8,136.2l2.5,2.5l-2.5,2.5l-2.5,-2.5zM349.2,139.0l2.5,2.5l-2.5,2.5l-2.5,-2.5zM397.5,135.7l2.5,2.5l-2.5,2.5l-2.5,-2.5zM421.2,138.2l2.5,2.5l-2.5,2.5l-2.5,-2.5zM420.0,140.7l2.5,2.5l-2.5,2.5l-2.5,-2.5zM407.5,140.7l2.5,2.5l-2.5,2.5l-2.5,-2.5zM389.2,140.7l2.5,2.5l-2.5,2.5l-2.5,-2.5zM372.5,144.0l2.5,2.5l-2.5,2.5l-2.5,-2.5zM403.3,142.3l2.5,2.5l-2.5,2.5l-2.5,-2.5zM440.0,144.0l2.5,2.5l-2.5,2.5l-2.5,-2.5zM430.8,144.8l2.5,2.5l-2.5,2.5l-2.5,-2.5zM425.0,144.8l2.5,2.5l-2.5,2.5l-2.5,-2.5zM474.7,143.5l2.5,2.5l-2.5,2.5l-2.5,-2.5zM462.5,140.7l2.5,2.5l-2.5,2.5l-2.5,-2.5z" fill="#767676" stroke="none"/>
</g>
<g stroke="#2e2e2e" stroke-width="1.3" fill="none">
<rect x="68.1" y="24.9" width="412" height="324.1"/>
<line x1="71.5" y1="349" x2="71.5" y2="344.5"/><line x1="71.5" y1="25" x2="71.5" y2="29.5"/><line x1="119.0" y1="349" x2="119.0" y2="344.5"/><line x1="119.0" y1="25" x2="119.0" y2="29.5"/><line x1="166.5" y1="349" x2="166.5" y2="344.5"/><line x1="166.5" y1="25" x2="166.5" y2="29.5"/><line x1="214.0" y1="349" x2="214.0" y2="344.5"/><line x1="214.0" y1="25" x2="214.0" y2="29.5"/><line x1="261.5" y1="349" x2="261.5" y2="344.5"/><line x1="261.5" y1="25" x2="261.5" y2="29.5"/><line x1="309.0" y1="349" x2="309.0" y2="344.5"/><line x1="309.0" y1="25" x2="309.0" y2="29.5"/><line x1="356.5" y1="349" x2="356.5" y2="344.5"/><line x1="356.5" y1="25" x2="356.5" y2="29.5"/><line x1="404.0" y1="349" x2="404.0" y2="344.5"/><line x1="404.0" y1="25" x2="404.0" y2="29.5"/><line x1="451.5" y1="349" x2="451.5" y2="344.5"/><line x1="451.5" y1="25" x2="451.5" y2="29.5"/><line x1="68" y1="25.0" x2="72.5" y2="25.0"/><line x1="480" y1="25.0" x2="475.5" y2="25.0"/><line x1="68" y1="79.0" x2="72.5" y2="79.0"/><line x1="480" y1="79.0" x2="475.5" y2="79.0"/><line x1="68" y1="133.0" x2="72.5" y2="133.0"/><line x1="480" y1="133.0" x2="475.5" y2="133.0"/><line x1="68" y1="187.0" x2="72.5" y2="187.0"/><line x1="480" y1="187.0" x2="475.5" y2="187.0"/><line x1="68" y1="241.0" x2="72.5" y2="241.0"/><line x1="480" y1="241.0" x2="475.5" y2="241.0"/><line x1="68" y1="295.0" x2="72.5" y2="295.0"/><line x1="480" y1="295.0" x2="475.5" y2="295.0"/><line x1="68" y1="349.0" x2="72.5" y2="349.0"/><line x1="480" y1="349.0" x2="475.5" y2="349.0"/>
</g>
<g font-size="17.4">
<text x="271.5" y="17.4" text-anchor="middle" font-size="17.6">N225 RED data</text>
<text x="71.2" y="365.4" text-anchor="middle">0</text><text x="117.3" y="365.4" text-anchor="middle">100</text><text x="166.0" y="365.4" text-anchor="middle">200</text><text x="215.7" y="365.4" text-anchor="middle">300</text><text x="259.9" y="365.4" text-anchor="middle">400</text><text x="309.5" y="365.4" text-anchor="middle">500</text><text x="354.2" y="365.4" text-anchor="middle">600</text><text x="404.0" y="365.4" text-anchor="middle">700</text><text x="448.4" y="365.4" text-anchor="middle">800</text>
<text x="64.3" y="31.6" text-anchor="end">0.08</text><text x="64.3" y="85.4" text-anchor="end">0.06</text><text x="64.3" y="139.2" text-anchor="end">0.04</text><text x="64.3" y="193.0" text-anchor="end">0.02</text><text x="64.3" y="246.8" text-anchor="end">0</text><text x="64.3" y="300.6" text-anchor="end">-0.02</text><text x="64.3" y="354.4" text-anchor="end">-0.04</text>
<text x="273.4" y="380" text-anchor="middle" font-size="17">t</text>
<text transform="translate(22.4,183.9) rotate(-90)" text-anchor="middle">X<tspan font-size="11" dy="6.2" dx="0.2">t</tspan></text>
</g>
<g>
<rect x="346.9" y="31.6" width="128.1" height="68" fill="#fff" stroke="#2e2e2e" stroke-width="1.2"/>
<line x1="354.8" y1="42.2" x2="392.4" y2="42.2" stroke="#d2d2d2" stroke-width="1.2"/>
<line x1="354.8" y1="63.6" x2="392.4" y2="63.6" stroke="#333" stroke-width="1.6"/>
<path d="M373.6,83.6l2.2,2.2l-2.2,2.2l-2.2,-2.2z" fill="#767676"/>
<g font-size="15.4">
<text x="396.4" y="46.8">Time Series</text>
<text x="396.4" y="67">VaR<tspan font-size="9" dy="4.1">0.9</tspan><tspan dy="-4.1"> new</tspan></text>
<text x="395" y="88.4">CVaR<tspan font-size="9" dy="4.6">0.9</tspan><tspan dy="-4.6"> new</tspan></text>
</g>
</g>
</svg>
</body>
</html>
